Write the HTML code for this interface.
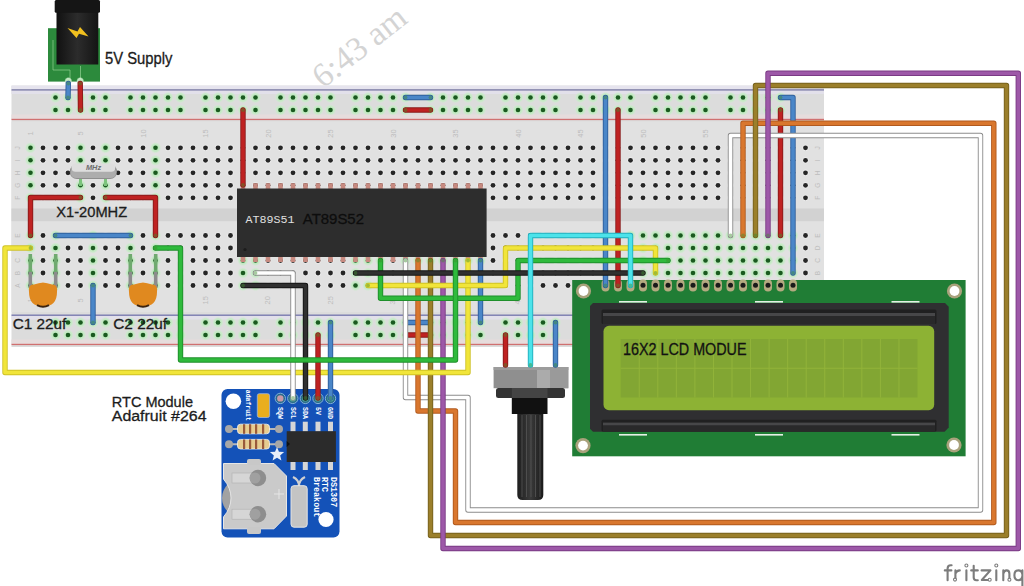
<!DOCTYPE html><html><head><meta charset="utf-8"><style>html,body{margin:0;padding:0;background:#fff;width:1024px;height:586px;overflow:hidden}svg{display:block}text{font-family:"Liberation Sans",sans-serif}</style></head><body>
<svg width="1024" height="586" viewBox="0 0 1024 586">
<rect width="1024" height="586" fill="#fff"/>
<text x="323" y="89" transform="rotate(-38 323 89)" font-family="Liberation Serif" font-size="33.7" fill="#d4d4d4" style="font-family:'Liberation Serif',serif">6:43 am</text>
<rect x="11.5" y="85.6" width="812.5" height="261.4" fill="#dcdcdc"/>
<rect x="11.5" y="121.5" width="812.5" height="190.5" fill="#e1e1e1"/>
<rect x="11.5" y="208.5" width="812.5" height="12.7" fill="#d2d2d2"/>
<rect x="11.5" y="85.6" width="812.5" height="3.6" fill="#e6e4ee"/>
<rect x="11.5" y="90" width="812.5" height="4" fill="#e2e0ea"/>
<rect x="11.5" y="114.5" width="812.5" height="4.5" fill="#e6dcdc"/>
<rect x="11.5" y="315.5" width="812.5" height="4" fill="#e2e0ea"/>
<rect x="11.5" y="339.5" width="812.5" height="4.5" fill="#e6dcdc"/>
<rect x="11.5" y="89.2" width="812.5" height="1.4" fill="#8080aa"/>
<rect x="11.5" y="118.8" width="812.5" height="1.3" fill="#d07070"/>
<rect x="11.5" y="314.5" width="812.5" height="1.4" fill="#7b7cb0"/>
<rect x="11.5" y="343.8" width="812.5" height="1.3" fill="#d07070"/>
<defs><radialGradient id="halo"><stop offset="0" stop-color="#b4e2b4"/><stop offset="0.65" stop-color="#c6eac6"/><stop offset="1" stop-color="#d2ecd2" stop-opacity="0"/></radialGradient><radialGradient id="wring"><stop offset="0.5" stop-color="#f4f4f4"/><stop offset="1" stop-color="#f4f4f4" stop-opacity="0"/></radialGradient></defs>
<circle cx="30.5" cy="147.8" r="5.8" fill="url(#halo)"/><circle cx="30.5" cy="147.8" r="2.3" fill="#1a5a1f"/>
<circle cx="30.5" cy="160.3" r="5.8" fill="url(#halo)"/><circle cx="30.5" cy="160.3" r="2.3" fill="#1a5a1f"/>
<circle cx="30.5" cy="172.8" r="5.8" fill="url(#halo)"/><circle cx="30.5" cy="172.8" r="2.3" fill="#1a5a1f"/>
<circle cx="30.5" cy="185.3" r="5.8" fill="url(#halo)"/><circle cx="30.5" cy="185.3" r="2.3" fill="#1a5a1f"/>
<circle cx="30.5" cy="197.8" r="5.8" fill="url(#halo)"/><circle cx="30.5" cy="197.8" r="2.3" fill="#1a5a1f"/>
<circle cx="30.5" cy="235.5" r="5.8" fill="url(#halo)"/><circle cx="30.5" cy="235.5" r="2.3" fill="#1a5a1f"/>
<circle cx="30.5" cy="248" r="5.8" fill="url(#halo)"/><circle cx="30.5" cy="248" r="2.3" fill="#1a5a1f"/>
<circle cx="30.5" cy="260.5" r="5.8" fill="url(#halo)"/><circle cx="30.5" cy="260.5" r="2.3" fill="#1a5a1f"/>
<circle cx="30.5" cy="273" r="5.8" fill="url(#halo)"/><circle cx="30.5" cy="273" r="2.3" fill="#1a5a1f"/>
<circle cx="30.5" cy="285.5" r="5.8" fill="url(#halo)"/><circle cx="30.5" cy="285.5" r="2.3" fill="#1a5a1f"/>
<circle cx="43.0" cy="147.8" r="3.8" fill="url(#wring)"/><circle cx="43.0" cy="147.8" r="2.4" fill="#262626"/>
<circle cx="43.0" cy="160.3" r="3.8" fill="url(#wring)"/><circle cx="43.0" cy="160.3" r="2.4" fill="#262626"/>
<circle cx="43.0" cy="172.8" r="3.8" fill="url(#wring)"/><circle cx="43.0" cy="172.8" r="2.4" fill="#262626"/>
<circle cx="43.0" cy="185.3" r="3.8" fill="url(#wring)"/><circle cx="43.0" cy="185.3" r="2.4" fill="#262626"/>
<circle cx="43.0" cy="197.8" r="3.8" fill="url(#wring)"/><circle cx="43.0" cy="197.8" r="2.4" fill="#262626"/>
<circle cx="43.0" cy="235.5" r="3.8" fill="url(#wring)"/><circle cx="43.0" cy="235.5" r="2.4" fill="#262626"/>
<circle cx="43.0" cy="248" r="3.8" fill="url(#wring)"/><circle cx="43.0" cy="248" r="2.4" fill="#262626"/>
<circle cx="43.0" cy="260.5" r="3.8" fill="url(#wring)"/><circle cx="43.0" cy="260.5" r="2.4" fill="#262626"/>
<circle cx="43.0" cy="273" r="3.8" fill="url(#wring)"/><circle cx="43.0" cy="273" r="2.4" fill="#262626"/>
<circle cx="43.0" cy="285.5" r="3.8" fill="url(#wring)"/><circle cx="43.0" cy="285.5" r="2.4" fill="#262626"/>
<circle cx="55.5" cy="147.8" r="3.8" fill="url(#wring)"/><circle cx="55.5" cy="147.8" r="2.4" fill="#262626"/>
<circle cx="55.5" cy="160.3" r="3.8" fill="url(#wring)"/><circle cx="55.5" cy="160.3" r="2.4" fill="#262626"/>
<circle cx="55.5" cy="172.8" r="3.8" fill="url(#wring)"/><circle cx="55.5" cy="172.8" r="2.4" fill="#262626"/>
<circle cx="55.5" cy="185.3" r="3.8" fill="url(#wring)"/><circle cx="55.5" cy="185.3" r="2.4" fill="#262626"/>
<circle cx="55.5" cy="197.8" r="3.8" fill="url(#wring)"/><circle cx="55.5" cy="197.8" r="2.4" fill="#262626"/>
<circle cx="55.5" cy="235.5" r="5.8" fill="url(#halo)"/><circle cx="55.5" cy="235.5" r="2.3" fill="#1a5a1f"/>
<circle cx="55.5" cy="248" r="5.8" fill="url(#halo)"/><circle cx="55.5" cy="248" r="2.3" fill="#1a5a1f"/>
<circle cx="55.5" cy="260.5" r="5.8" fill="url(#halo)"/><circle cx="55.5" cy="260.5" r="2.3" fill="#1a5a1f"/>
<circle cx="55.5" cy="273" r="5.8" fill="url(#halo)"/><circle cx="55.5" cy="273" r="2.3" fill="#1a5a1f"/>
<circle cx="55.5" cy="285.5" r="5.8" fill="url(#halo)"/><circle cx="55.5" cy="285.5" r="2.3" fill="#1a5a1f"/>
<circle cx="68.0" cy="147.8" r="3.8" fill="url(#wring)"/><circle cx="68.0" cy="147.8" r="2.4" fill="#262626"/>
<circle cx="68.0" cy="160.3" r="3.8" fill="url(#wring)"/><circle cx="68.0" cy="160.3" r="2.4" fill="#262626"/>
<circle cx="68.0" cy="172.8" r="3.8" fill="url(#wring)"/><circle cx="68.0" cy="172.8" r="2.4" fill="#262626"/>
<circle cx="68.0" cy="185.3" r="3.8" fill="url(#wring)"/><circle cx="68.0" cy="185.3" r="2.4" fill="#262626"/>
<circle cx="68.0" cy="197.8" r="3.8" fill="url(#wring)"/><circle cx="68.0" cy="197.8" r="2.4" fill="#262626"/>
<circle cx="68.0" cy="235.5" r="3.8" fill="url(#wring)"/><circle cx="68.0" cy="235.5" r="2.4" fill="#262626"/>
<circle cx="68.0" cy="248" r="3.8" fill="url(#wring)"/><circle cx="68.0" cy="248" r="2.4" fill="#262626"/>
<circle cx="68.0" cy="260.5" r="3.8" fill="url(#wring)"/><circle cx="68.0" cy="260.5" r="2.4" fill="#262626"/>
<circle cx="68.0" cy="273" r="3.8" fill="url(#wring)"/><circle cx="68.0" cy="273" r="2.4" fill="#262626"/>
<circle cx="68.0" cy="285.5" r="3.8" fill="url(#wring)"/><circle cx="68.0" cy="285.5" r="2.4" fill="#262626"/>
<circle cx="80.5" cy="147.8" r="5.8" fill="url(#halo)"/><circle cx="80.5" cy="147.8" r="2.3" fill="#1a5a1f"/>
<circle cx="80.5" cy="160.3" r="5.8" fill="url(#halo)"/><circle cx="80.5" cy="160.3" r="2.3" fill="#1a5a1f"/>
<circle cx="80.5" cy="172.8" r="5.8" fill="url(#halo)"/><circle cx="80.5" cy="172.8" r="2.3" fill="#1a5a1f"/>
<circle cx="80.5" cy="185.3" r="5.8" fill="url(#halo)"/><circle cx="80.5" cy="185.3" r="2.3" fill="#1a5a1f"/>
<circle cx="80.5" cy="197.8" r="5.8" fill="url(#halo)"/><circle cx="80.5" cy="197.8" r="2.3" fill="#1a5a1f"/>
<circle cx="80.5" cy="235.5" r="3.8" fill="url(#wring)"/><circle cx="80.5" cy="235.5" r="2.4" fill="#262626"/>
<circle cx="80.5" cy="248" r="3.8" fill="url(#wring)"/><circle cx="80.5" cy="248" r="2.4" fill="#262626"/>
<circle cx="80.5" cy="260.5" r="3.8" fill="url(#wring)"/><circle cx="80.5" cy="260.5" r="2.4" fill="#262626"/>
<circle cx="80.5" cy="273" r="3.8" fill="url(#wring)"/><circle cx="80.5" cy="273" r="2.4" fill="#262626"/>
<circle cx="80.5" cy="285.5" r="3.8" fill="url(#wring)"/><circle cx="80.5" cy="285.5" r="2.4" fill="#262626"/>
<circle cx="93.0" cy="147.8" r="3.8" fill="url(#wring)"/><circle cx="93.0" cy="147.8" r="2.4" fill="#262626"/>
<circle cx="93.0" cy="160.3" r="3.8" fill="url(#wring)"/><circle cx="93.0" cy="160.3" r="2.4" fill="#262626"/>
<circle cx="93.0" cy="172.8" r="3.8" fill="url(#wring)"/><circle cx="93.0" cy="172.8" r="2.4" fill="#262626"/>
<circle cx="93.0" cy="185.3" r="3.8" fill="url(#wring)"/><circle cx="93.0" cy="185.3" r="2.4" fill="#262626"/>
<circle cx="93.0" cy="197.8" r="3.8" fill="url(#wring)"/><circle cx="93.0" cy="197.8" r="2.4" fill="#262626"/>
<circle cx="93.0" cy="235.5" r="5.8" fill="url(#halo)"/><circle cx="93.0" cy="235.5" r="2.3" fill="#1a5a1f"/>
<circle cx="93.0" cy="248" r="5.8" fill="url(#halo)"/><circle cx="93.0" cy="248" r="2.3" fill="#1a5a1f"/>
<circle cx="93.0" cy="260.5" r="5.8" fill="url(#halo)"/><circle cx="93.0" cy="260.5" r="2.3" fill="#1a5a1f"/>
<circle cx="93.0" cy="273" r="5.8" fill="url(#halo)"/><circle cx="93.0" cy="273" r="2.3" fill="#1a5a1f"/>
<circle cx="93.0" cy="285.5" r="5.8" fill="url(#halo)"/><circle cx="93.0" cy="285.5" r="2.3" fill="#1a5a1f"/>
<circle cx="105.5" cy="147.8" r="5.8" fill="url(#halo)"/><circle cx="105.5" cy="147.8" r="2.3" fill="#1a5a1f"/>
<circle cx="105.5" cy="160.3" r="5.8" fill="url(#halo)"/><circle cx="105.5" cy="160.3" r="2.3" fill="#1a5a1f"/>
<circle cx="105.5" cy="172.8" r="5.8" fill="url(#halo)"/><circle cx="105.5" cy="172.8" r="2.3" fill="#1a5a1f"/>
<circle cx="105.5" cy="185.3" r="5.8" fill="url(#halo)"/><circle cx="105.5" cy="185.3" r="2.3" fill="#1a5a1f"/>
<circle cx="105.5" cy="197.8" r="5.8" fill="url(#halo)"/><circle cx="105.5" cy="197.8" r="2.3" fill="#1a5a1f"/>
<circle cx="105.5" cy="235.5" r="3.8" fill="url(#wring)"/><circle cx="105.5" cy="235.5" r="2.4" fill="#262626"/>
<circle cx="105.5" cy="248" r="3.8" fill="url(#wring)"/><circle cx="105.5" cy="248" r="2.4" fill="#262626"/>
<circle cx="105.5" cy="260.5" r="3.8" fill="url(#wring)"/><circle cx="105.5" cy="260.5" r="2.4" fill="#262626"/>
<circle cx="105.5" cy="273" r="3.8" fill="url(#wring)"/><circle cx="105.5" cy="273" r="2.4" fill="#262626"/>
<circle cx="105.5" cy="285.5" r="3.8" fill="url(#wring)"/><circle cx="105.5" cy="285.5" r="2.4" fill="#262626"/>
<circle cx="118.0" cy="147.8" r="3.8" fill="url(#wring)"/><circle cx="118.0" cy="147.8" r="2.4" fill="#262626"/>
<circle cx="118.0" cy="160.3" r="3.8" fill="url(#wring)"/><circle cx="118.0" cy="160.3" r="2.4" fill="#262626"/>
<circle cx="118.0" cy="172.8" r="3.8" fill="url(#wring)"/><circle cx="118.0" cy="172.8" r="2.4" fill="#262626"/>
<circle cx="118.0" cy="185.3" r="3.8" fill="url(#wring)"/><circle cx="118.0" cy="185.3" r="2.4" fill="#262626"/>
<circle cx="118.0" cy="197.8" r="3.8" fill="url(#wring)"/><circle cx="118.0" cy="197.8" r="2.4" fill="#262626"/>
<circle cx="118.0" cy="235.5" r="3.8" fill="url(#wring)"/><circle cx="118.0" cy="235.5" r="2.4" fill="#262626"/>
<circle cx="118.0" cy="248" r="3.8" fill="url(#wring)"/><circle cx="118.0" cy="248" r="2.4" fill="#262626"/>
<circle cx="118.0" cy="260.5" r="3.8" fill="url(#wring)"/><circle cx="118.0" cy="260.5" r="2.4" fill="#262626"/>
<circle cx="118.0" cy="273" r="3.8" fill="url(#wring)"/><circle cx="118.0" cy="273" r="2.4" fill="#262626"/>
<circle cx="118.0" cy="285.5" r="3.8" fill="url(#wring)"/><circle cx="118.0" cy="285.5" r="2.4" fill="#262626"/>
<circle cx="130.5" cy="147.8" r="3.8" fill="url(#wring)"/><circle cx="130.5" cy="147.8" r="2.4" fill="#262626"/>
<circle cx="130.5" cy="160.3" r="3.8" fill="url(#wring)"/><circle cx="130.5" cy="160.3" r="2.4" fill="#262626"/>
<circle cx="130.5" cy="172.8" r="3.8" fill="url(#wring)"/><circle cx="130.5" cy="172.8" r="2.4" fill="#262626"/>
<circle cx="130.5" cy="185.3" r="3.8" fill="url(#wring)"/><circle cx="130.5" cy="185.3" r="2.4" fill="#262626"/>
<circle cx="130.5" cy="197.8" r="3.8" fill="url(#wring)"/><circle cx="130.5" cy="197.8" r="2.4" fill="#262626"/>
<circle cx="130.5" cy="235.5" r="5.8" fill="url(#halo)"/><circle cx="130.5" cy="235.5" r="2.3" fill="#1a5a1f"/>
<circle cx="130.5" cy="248" r="5.8" fill="url(#halo)"/><circle cx="130.5" cy="248" r="2.3" fill="#1a5a1f"/>
<circle cx="130.5" cy="260.5" r="5.8" fill="url(#halo)"/><circle cx="130.5" cy="260.5" r="2.3" fill="#1a5a1f"/>
<circle cx="130.5" cy="273" r="5.8" fill="url(#halo)"/><circle cx="130.5" cy="273" r="2.3" fill="#1a5a1f"/>
<circle cx="130.5" cy="285.5" r="5.8" fill="url(#halo)"/><circle cx="130.5" cy="285.5" r="2.3" fill="#1a5a1f"/>
<circle cx="143.0" cy="147.8" r="3.8" fill="url(#wring)"/><circle cx="143.0" cy="147.8" r="2.4" fill="#262626"/>
<circle cx="143.0" cy="160.3" r="3.8" fill="url(#wring)"/><circle cx="143.0" cy="160.3" r="2.4" fill="#262626"/>
<circle cx="143.0" cy="172.8" r="3.8" fill="url(#wring)"/><circle cx="143.0" cy="172.8" r="2.4" fill="#262626"/>
<circle cx="143.0" cy="185.3" r="3.8" fill="url(#wring)"/><circle cx="143.0" cy="185.3" r="2.4" fill="#262626"/>
<circle cx="143.0" cy="197.8" r="3.8" fill="url(#wring)"/><circle cx="143.0" cy="197.8" r="2.4" fill="#262626"/>
<circle cx="143.0" cy="235.5" r="3.8" fill="url(#wring)"/><circle cx="143.0" cy="235.5" r="2.4" fill="#262626"/>
<circle cx="143.0" cy="248" r="3.8" fill="url(#wring)"/><circle cx="143.0" cy="248" r="2.4" fill="#262626"/>
<circle cx="143.0" cy="260.5" r="3.8" fill="url(#wring)"/><circle cx="143.0" cy="260.5" r="2.4" fill="#262626"/>
<circle cx="143.0" cy="273" r="3.8" fill="url(#wring)"/><circle cx="143.0" cy="273" r="2.4" fill="#262626"/>
<circle cx="143.0" cy="285.5" r="3.8" fill="url(#wring)"/><circle cx="143.0" cy="285.5" r="2.4" fill="#262626"/>
<circle cx="155.5" cy="147.8" r="5.8" fill="url(#halo)"/><circle cx="155.5" cy="147.8" r="2.3" fill="#1a5a1f"/>
<circle cx="155.5" cy="160.3" r="5.8" fill="url(#halo)"/><circle cx="155.5" cy="160.3" r="2.3" fill="#1a5a1f"/>
<circle cx="155.5" cy="172.8" r="5.8" fill="url(#halo)"/><circle cx="155.5" cy="172.8" r="2.3" fill="#1a5a1f"/>
<circle cx="155.5" cy="185.3" r="5.8" fill="url(#halo)"/><circle cx="155.5" cy="185.3" r="2.3" fill="#1a5a1f"/>
<circle cx="155.5" cy="197.8" r="5.8" fill="url(#halo)"/><circle cx="155.5" cy="197.8" r="2.3" fill="#1a5a1f"/>
<circle cx="155.5" cy="235.5" r="5.8" fill="url(#halo)"/><circle cx="155.5" cy="235.5" r="2.3" fill="#1a5a1f"/>
<circle cx="155.5" cy="248" r="5.8" fill="url(#halo)"/><circle cx="155.5" cy="248" r="2.3" fill="#1a5a1f"/>
<circle cx="155.5" cy="260.5" r="5.8" fill="url(#halo)"/><circle cx="155.5" cy="260.5" r="2.3" fill="#1a5a1f"/>
<circle cx="155.5" cy="273" r="5.8" fill="url(#halo)"/><circle cx="155.5" cy="273" r="2.3" fill="#1a5a1f"/>
<circle cx="155.5" cy="285.5" r="5.8" fill="url(#halo)"/><circle cx="155.5" cy="285.5" r="2.3" fill="#1a5a1f"/>
<circle cx="168.0" cy="147.8" r="3.8" fill="url(#wring)"/><circle cx="168.0" cy="147.8" r="2.4" fill="#262626"/>
<circle cx="168.0" cy="160.3" r="3.8" fill="url(#wring)"/><circle cx="168.0" cy="160.3" r="2.4" fill="#262626"/>
<circle cx="168.0" cy="172.8" r="3.8" fill="url(#wring)"/><circle cx="168.0" cy="172.8" r="2.4" fill="#262626"/>
<circle cx="168.0" cy="185.3" r="3.8" fill="url(#wring)"/><circle cx="168.0" cy="185.3" r="2.4" fill="#262626"/>
<circle cx="168.0" cy="197.8" r="3.8" fill="url(#wring)"/><circle cx="168.0" cy="197.8" r="2.4" fill="#262626"/>
<circle cx="168.0" cy="235.5" r="3.8" fill="url(#wring)"/><circle cx="168.0" cy="235.5" r="2.4" fill="#262626"/>
<circle cx="168.0" cy="248" r="3.8" fill="url(#wring)"/><circle cx="168.0" cy="248" r="2.4" fill="#262626"/>
<circle cx="168.0" cy="260.5" r="3.8" fill="url(#wring)"/><circle cx="168.0" cy="260.5" r="2.4" fill="#262626"/>
<circle cx="168.0" cy="273" r="3.8" fill="url(#wring)"/><circle cx="168.0" cy="273" r="2.4" fill="#262626"/>
<circle cx="168.0" cy="285.5" r="3.8" fill="url(#wring)"/><circle cx="168.0" cy="285.5" r="2.4" fill="#262626"/>
<circle cx="180.5" cy="147.8" r="3.8" fill="url(#wring)"/><circle cx="180.5" cy="147.8" r="2.4" fill="#262626"/>
<circle cx="180.5" cy="160.3" r="3.8" fill="url(#wring)"/><circle cx="180.5" cy="160.3" r="2.4" fill="#262626"/>
<circle cx="180.5" cy="172.8" r="3.8" fill="url(#wring)"/><circle cx="180.5" cy="172.8" r="2.4" fill="#262626"/>
<circle cx="180.5" cy="185.3" r="3.8" fill="url(#wring)"/><circle cx="180.5" cy="185.3" r="2.4" fill="#262626"/>
<circle cx="180.5" cy="197.8" r="3.8" fill="url(#wring)"/><circle cx="180.5" cy="197.8" r="2.4" fill="#262626"/>
<circle cx="180.5" cy="235.5" r="3.8" fill="url(#wring)"/><circle cx="180.5" cy="235.5" r="2.4" fill="#262626"/>
<circle cx="180.5" cy="248" r="3.8" fill="url(#wring)"/><circle cx="180.5" cy="248" r="2.4" fill="#262626"/>
<circle cx="180.5" cy="260.5" r="3.8" fill="url(#wring)"/><circle cx="180.5" cy="260.5" r="2.4" fill="#262626"/>
<circle cx="180.5" cy="273" r="3.8" fill="url(#wring)"/><circle cx="180.5" cy="273" r="2.4" fill="#262626"/>
<circle cx="180.5" cy="285.5" r="3.8" fill="url(#wring)"/><circle cx="180.5" cy="285.5" r="2.4" fill="#262626"/>
<circle cx="193.0" cy="147.8" r="3.8" fill="url(#wring)"/><circle cx="193.0" cy="147.8" r="2.4" fill="#262626"/>
<circle cx="193.0" cy="160.3" r="3.8" fill="url(#wring)"/><circle cx="193.0" cy="160.3" r="2.4" fill="#262626"/>
<circle cx="193.0" cy="172.8" r="3.8" fill="url(#wring)"/><circle cx="193.0" cy="172.8" r="2.4" fill="#262626"/>
<circle cx="193.0" cy="185.3" r="3.8" fill="url(#wring)"/><circle cx="193.0" cy="185.3" r="2.4" fill="#262626"/>
<circle cx="193.0" cy="197.8" r="3.8" fill="url(#wring)"/><circle cx="193.0" cy="197.8" r="2.4" fill="#262626"/>
<circle cx="193.0" cy="235.5" r="3.8" fill="url(#wring)"/><circle cx="193.0" cy="235.5" r="2.4" fill="#262626"/>
<circle cx="193.0" cy="248" r="3.8" fill="url(#wring)"/><circle cx="193.0" cy="248" r="2.4" fill="#262626"/>
<circle cx="193.0" cy="260.5" r="3.8" fill="url(#wring)"/><circle cx="193.0" cy="260.5" r="2.4" fill="#262626"/>
<circle cx="193.0" cy="273" r="3.8" fill="url(#wring)"/><circle cx="193.0" cy="273" r="2.4" fill="#262626"/>
<circle cx="193.0" cy="285.5" r="3.8" fill="url(#wring)"/><circle cx="193.0" cy="285.5" r="2.4" fill="#262626"/>
<circle cx="205.5" cy="147.8" r="3.8" fill="url(#wring)"/><circle cx="205.5" cy="147.8" r="2.4" fill="#262626"/>
<circle cx="205.5" cy="160.3" r="3.8" fill="url(#wring)"/><circle cx="205.5" cy="160.3" r="2.4" fill="#262626"/>
<circle cx="205.5" cy="172.8" r="3.8" fill="url(#wring)"/><circle cx="205.5" cy="172.8" r="2.4" fill="#262626"/>
<circle cx="205.5" cy="185.3" r="3.8" fill="url(#wring)"/><circle cx="205.5" cy="185.3" r="2.4" fill="#262626"/>
<circle cx="205.5" cy="197.8" r="3.8" fill="url(#wring)"/><circle cx="205.5" cy="197.8" r="2.4" fill="#262626"/>
<circle cx="205.5" cy="235.5" r="3.8" fill="url(#wring)"/><circle cx="205.5" cy="235.5" r="2.4" fill="#262626"/>
<circle cx="205.5" cy="248" r="3.8" fill="url(#wring)"/><circle cx="205.5" cy="248" r="2.4" fill="#262626"/>
<circle cx="205.5" cy="260.5" r="3.8" fill="url(#wring)"/><circle cx="205.5" cy="260.5" r="2.4" fill="#262626"/>
<circle cx="205.5" cy="273" r="3.8" fill="url(#wring)"/><circle cx="205.5" cy="273" r="2.4" fill="#262626"/>
<circle cx="205.5" cy="285.5" r="3.8" fill="url(#wring)"/><circle cx="205.5" cy="285.5" r="2.4" fill="#262626"/>
<circle cx="218.0" cy="147.8" r="3.8" fill="url(#wring)"/><circle cx="218.0" cy="147.8" r="2.4" fill="#262626"/>
<circle cx="218.0" cy="160.3" r="3.8" fill="url(#wring)"/><circle cx="218.0" cy="160.3" r="2.4" fill="#262626"/>
<circle cx="218.0" cy="172.8" r="3.8" fill="url(#wring)"/><circle cx="218.0" cy="172.8" r="2.4" fill="#262626"/>
<circle cx="218.0" cy="185.3" r="3.8" fill="url(#wring)"/><circle cx="218.0" cy="185.3" r="2.4" fill="#262626"/>
<circle cx="218.0" cy="197.8" r="3.8" fill="url(#wring)"/><circle cx="218.0" cy="197.8" r="2.4" fill="#262626"/>
<circle cx="218.0" cy="235.5" r="3.8" fill="url(#wring)"/><circle cx="218.0" cy="235.5" r="2.4" fill="#262626"/>
<circle cx="218.0" cy="248" r="3.8" fill="url(#wring)"/><circle cx="218.0" cy="248" r="2.4" fill="#262626"/>
<circle cx="218.0" cy="260.5" r="3.8" fill="url(#wring)"/><circle cx="218.0" cy="260.5" r="2.4" fill="#262626"/>
<circle cx="218.0" cy="273" r="3.8" fill="url(#wring)"/><circle cx="218.0" cy="273" r="2.4" fill="#262626"/>
<circle cx="218.0" cy="285.5" r="3.8" fill="url(#wring)"/><circle cx="218.0" cy="285.5" r="2.4" fill="#262626"/>
<circle cx="230.5" cy="147.8" r="3.8" fill="url(#wring)"/><circle cx="230.5" cy="147.8" r="2.4" fill="#262626"/>
<circle cx="230.5" cy="160.3" r="3.8" fill="url(#wring)"/><circle cx="230.5" cy="160.3" r="2.4" fill="#262626"/>
<circle cx="230.5" cy="172.8" r="3.8" fill="url(#wring)"/><circle cx="230.5" cy="172.8" r="2.4" fill="#262626"/>
<circle cx="230.5" cy="185.3" r="3.8" fill="url(#wring)"/><circle cx="230.5" cy="185.3" r="2.4" fill="#262626"/>
<circle cx="230.5" cy="197.8" r="3.8" fill="url(#wring)"/><circle cx="230.5" cy="197.8" r="2.4" fill="#262626"/>
<circle cx="230.5" cy="235.5" r="3.8" fill="url(#wring)"/><circle cx="230.5" cy="235.5" r="2.4" fill="#262626"/>
<circle cx="230.5" cy="248" r="3.8" fill="url(#wring)"/><circle cx="230.5" cy="248" r="2.4" fill="#262626"/>
<circle cx="230.5" cy="260.5" r="3.8" fill="url(#wring)"/><circle cx="230.5" cy="260.5" r="2.4" fill="#262626"/>
<circle cx="230.5" cy="273" r="3.8" fill="url(#wring)"/><circle cx="230.5" cy="273" r="2.4" fill="#262626"/>
<circle cx="230.5" cy="285.5" r="3.8" fill="url(#wring)"/><circle cx="230.5" cy="285.5" r="2.4" fill="#262626"/>
<circle cx="243.0" cy="147.8" r="3.8" fill="url(#wring)"/><circle cx="243.0" cy="147.8" r="2.4" fill="#262626"/>
<circle cx="243.0" cy="160.3" r="3.8" fill="url(#wring)"/><circle cx="243.0" cy="160.3" r="2.4" fill="#262626"/>
<circle cx="243.0" cy="172.8" r="3.8" fill="url(#wring)"/><circle cx="243.0" cy="172.8" r="2.4" fill="#262626"/>
<circle cx="243.0" cy="185.3" r="3.8" fill="url(#wring)"/><circle cx="243.0" cy="185.3" r="2.4" fill="#262626"/>
<circle cx="243.0" cy="197.8" r="3.8" fill="url(#wring)"/><circle cx="243.0" cy="197.8" r="2.4" fill="#262626"/>
<circle cx="243.0" cy="235.5" r="5.8" fill="url(#halo)"/><circle cx="243.0" cy="235.5" r="2.3" fill="#1a5a1f"/>
<circle cx="243.0" cy="248" r="5.8" fill="url(#halo)"/><circle cx="243.0" cy="248" r="2.3" fill="#1a5a1f"/>
<circle cx="243.0" cy="260.5" r="5.8" fill="url(#halo)"/><circle cx="243.0" cy="260.5" r="2.3" fill="#1a5a1f"/>
<circle cx="243.0" cy="273" r="5.8" fill="url(#halo)"/><circle cx="243.0" cy="273" r="2.3" fill="#1a5a1f"/>
<circle cx="243.0" cy="285.5" r="5.8" fill="url(#halo)"/><circle cx="243.0" cy="285.5" r="2.3" fill="#1a5a1f"/>
<circle cx="255.5" cy="147.8" r="3.8" fill="url(#wring)"/><circle cx="255.5" cy="147.8" r="2.4" fill="#262626"/>
<circle cx="255.5" cy="160.3" r="3.8" fill="url(#wring)"/><circle cx="255.5" cy="160.3" r="2.4" fill="#262626"/>
<circle cx="255.5" cy="172.8" r="3.8" fill="url(#wring)"/><circle cx="255.5" cy="172.8" r="2.4" fill="#262626"/>
<circle cx="255.5" cy="185.3" r="3.8" fill="url(#wring)"/><circle cx="255.5" cy="185.3" r="2.4" fill="#262626"/>
<circle cx="255.5" cy="197.8" r="3.8" fill="url(#wring)"/><circle cx="255.5" cy="197.8" r="2.4" fill="#262626"/>
<circle cx="255.5" cy="235.5" r="5.8" fill="url(#halo)"/><circle cx="255.5" cy="235.5" r="2.3" fill="#1a5a1f"/>
<circle cx="255.5" cy="248" r="5.8" fill="url(#halo)"/><circle cx="255.5" cy="248" r="2.3" fill="#1a5a1f"/>
<circle cx="255.5" cy="260.5" r="5.8" fill="url(#halo)"/><circle cx="255.5" cy="260.5" r="2.3" fill="#1a5a1f"/>
<circle cx="255.5" cy="273" r="5.8" fill="url(#halo)"/><circle cx="255.5" cy="273" r="2.3" fill="#1a5a1f"/>
<circle cx="255.5" cy="285.5" r="5.8" fill="url(#halo)"/><circle cx="255.5" cy="285.5" r="2.3" fill="#1a5a1f"/>
<circle cx="268.0" cy="147.8" r="3.8" fill="url(#wring)"/><circle cx="268.0" cy="147.8" r="2.4" fill="#262626"/>
<circle cx="268.0" cy="160.3" r="3.8" fill="url(#wring)"/><circle cx="268.0" cy="160.3" r="2.4" fill="#262626"/>
<circle cx="268.0" cy="172.8" r="3.8" fill="url(#wring)"/><circle cx="268.0" cy="172.8" r="2.4" fill="#262626"/>
<circle cx="268.0" cy="185.3" r="3.8" fill="url(#wring)"/><circle cx="268.0" cy="185.3" r="2.4" fill="#262626"/>
<circle cx="268.0" cy="197.8" r="3.8" fill="url(#wring)"/><circle cx="268.0" cy="197.8" r="2.4" fill="#262626"/>
<circle cx="268.0" cy="235.5" r="3.8" fill="url(#wring)"/><circle cx="268.0" cy="235.5" r="2.4" fill="#262626"/>
<circle cx="268.0" cy="248" r="3.8" fill="url(#wring)"/><circle cx="268.0" cy="248" r="2.4" fill="#262626"/>
<circle cx="268.0" cy="260.5" r="3.8" fill="url(#wring)"/><circle cx="268.0" cy="260.5" r="2.4" fill="#262626"/>
<circle cx="268.0" cy="273" r="3.8" fill="url(#wring)"/><circle cx="268.0" cy="273" r="2.4" fill="#262626"/>
<circle cx="268.0" cy="285.5" r="3.8" fill="url(#wring)"/><circle cx="268.0" cy="285.5" r="2.4" fill="#262626"/>
<circle cx="280.5" cy="147.8" r="3.8" fill="url(#wring)"/><circle cx="280.5" cy="147.8" r="2.4" fill="#262626"/>
<circle cx="280.5" cy="160.3" r="3.8" fill="url(#wring)"/><circle cx="280.5" cy="160.3" r="2.4" fill="#262626"/>
<circle cx="280.5" cy="172.8" r="3.8" fill="url(#wring)"/><circle cx="280.5" cy="172.8" r="2.4" fill="#262626"/>
<circle cx="280.5" cy="185.3" r="3.8" fill="url(#wring)"/><circle cx="280.5" cy="185.3" r="2.4" fill="#262626"/>
<circle cx="280.5" cy="197.8" r="3.8" fill="url(#wring)"/><circle cx="280.5" cy="197.8" r="2.4" fill="#262626"/>
<circle cx="280.5" cy="235.5" r="3.8" fill="url(#wring)"/><circle cx="280.5" cy="235.5" r="2.4" fill="#262626"/>
<circle cx="280.5" cy="248" r="3.8" fill="url(#wring)"/><circle cx="280.5" cy="248" r="2.4" fill="#262626"/>
<circle cx="280.5" cy="260.5" r="3.8" fill="url(#wring)"/><circle cx="280.5" cy="260.5" r="2.4" fill="#262626"/>
<circle cx="280.5" cy="273" r="3.8" fill="url(#wring)"/><circle cx="280.5" cy="273" r="2.4" fill="#262626"/>
<circle cx="280.5" cy="285.5" r="3.8" fill="url(#wring)"/><circle cx="280.5" cy="285.5" r="2.4" fill="#262626"/>
<circle cx="293.0" cy="147.8" r="3.8" fill="url(#wring)"/><circle cx="293.0" cy="147.8" r="2.4" fill="#262626"/>
<circle cx="293.0" cy="160.3" r="3.8" fill="url(#wring)"/><circle cx="293.0" cy="160.3" r="2.4" fill="#262626"/>
<circle cx="293.0" cy="172.8" r="3.8" fill="url(#wring)"/><circle cx="293.0" cy="172.8" r="2.4" fill="#262626"/>
<circle cx="293.0" cy="185.3" r="3.8" fill="url(#wring)"/><circle cx="293.0" cy="185.3" r="2.4" fill="#262626"/>
<circle cx="293.0" cy="197.8" r="3.8" fill="url(#wring)"/><circle cx="293.0" cy="197.8" r="2.4" fill="#262626"/>
<circle cx="293.0" cy="235.5" r="3.8" fill="url(#wring)"/><circle cx="293.0" cy="235.5" r="2.4" fill="#262626"/>
<circle cx="293.0" cy="248" r="3.8" fill="url(#wring)"/><circle cx="293.0" cy="248" r="2.4" fill="#262626"/>
<circle cx="293.0" cy="260.5" r="3.8" fill="url(#wring)"/><circle cx="293.0" cy="260.5" r="2.4" fill="#262626"/>
<circle cx="293.0" cy="273" r="3.8" fill="url(#wring)"/><circle cx="293.0" cy="273" r="2.4" fill="#262626"/>
<circle cx="293.0" cy="285.5" r="3.8" fill="url(#wring)"/><circle cx="293.0" cy="285.5" r="2.4" fill="#262626"/>
<circle cx="305.5" cy="147.8" r="3.8" fill="url(#wring)"/><circle cx="305.5" cy="147.8" r="2.4" fill="#262626"/>
<circle cx="305.5" cy="160.3" r="3.8" fill="url(#wring)"/><circle cx="305.5" cy="160.3" r="2.4" fill="#262626"/>
<circle cx="305.5" cy="172.8" r="3.8" fill="url(#wring)"/><circle cx="305.5" cy="172.8" r="2.4" fill="#262626"/>
<circle cx="305.5" cy="185.3" r="3.8" fill="url(#wring)"/><circle cx="305.5" cy="185.3" r="2.4" fill="#262626"/>
<circle cx="305.5" cy="197.8" r="3.8" fill="url(#wring)"/><circle cx="305.5" cy="197.8" r="2.4" fill="#262626"/>
<circle cx="305.5" cy="235.5" r="3.8" fill="url(#wring)"/><circle cx="305.5" cy="235.5" r="2.4" fill="#262626"/>
<circle cx="305.5" cy="248" r="3.8" fill="url(#wring)"/><circle cx="305.5" cy="248" r="2.4" fill="#262626"/>
<circle cx="305.5" cy="260.5" r="3.8" fill="url(#wring)"/><circle cx="305.5" cy="260.5" r="2.4" fill="#262626"/>
<circle cx="305.5" cy="273" r="3.8" fill="url(#wring)"/><circle cx="305.5" cy="273" r="2.4" fill="#262626"/>
<circle cx="305.5" cy="285.5" r="3.8" fill="url(#wring)"/><circle cx="305.5" cy="285.5" r="2.4" fill="#262626"/>
<circle cx="318.0" cy="147.8" r="3.8" fill="url(#wring)"/><circle cx="318.0" cy="147.8" r="2.4" fill="#262626"/>
<circle cx="318.0" cy="160.3" r="3.8" fill="url(#wring)"/><circle cx="318.0" cy="160.3" r="2.4" fill="#262626"/>
<circle cx="318.0" cy="172.8" r="3.8" fill="url(#wring)"/><circle cx="318.0" cy="172.8" r="2.4" fill="#262626"/>
<circle cx="318.0" cy="185.3" r="3.8" fill="url(#wring)"/><circle cx="318.0" cy="185.3" r="2.4" fill="#262626"/>
<circle cx="318.0" cy="197.8" r="3.8" fill="url(#wring)"/><circle cx="318.0" cy="197.8" r="2.4" fill="#262626"/>
<circle cx="318.0" cy="235.5" r="3.8" fill="url(#wring)"/><circle cx="318.0" cy="235.5" r="2.4" fill="#262626"/>
<circle cx="318.0" cy="248" r="3.8" fill="url(#wring)"/><circle cx="318.0" cy="248" r="2.4" fill="#262626"/>
<circle cx="318.0" cy="260.5" r="3.8" fill="url(#wring)"/><circle cx="318.0" cy="260.5" r="2.4" fill="#262626"/>
<circle cx="318.0" cy="273" r="3.8" fill="url(#wring)"/><circle cx="318.0" cy="273" r="2.4" fill="#262626"/>
<circle cx="318.0" cy="285.5" r="3.8" fill="url(#wring)"/><circle cx="318.0" cy="285.5" r="2.4" fill="#262626"/>
<circle cx="330.5" cy="147.8" r="3.8" fill="url(#wring)"/><circle cx="330.5" cy="147.8" r="2.4" fill="#262626"/>
<circle cx="330.5" cy="160.3" r="3.8" fill="url(#wring)"/><circle cx="330.5" cy="160.3" r="2.4" fill="#262626"/>
<circle cx="330.5" cy="172.8" r="3.8" fill="url(#wring)"/><circle cx="330.5" cy="172.8" r="2.4" fill="#262626"/>
<circle cx="330.5" cy="185.3" r="3.8" fill="url(#wring)"/><circle cx="330.5" cy="185.3" r="2.4" fill="#262626"/>
<circle cx="330.5" cy="197.8" r="3.8" fill="url(#wring)"/><circle cx="330.5" cy="197.8" r="2.4" fill="#262626"/>
<circle cx="330.5" cy="235.5" r="3.8" fill="url(#wring)"/><circle cx="330.5" cy="235.5" r="2.4" fill="#262626"/>
<circle cx="330.5" cy="248" r="3.8" fill="url(#wring)"/><circle cx="330.5" cy="248" r="2.4" fill="#262626"/>
<circle cx="330.5" cy="260.5" r="3.8" fill="url(#wring)"/><circle cx="330.5" cy="260.5" r="2.4" fill="#262626"/>
<circle cx="330.5" cy="273" r="3.8" fill="url(#wring)"/><circle cx="330.5" cy="273" r="2.4" fill="#262626"/>
<circle cx="330.5" cy="285.5" r="3.8" fill="url(#wring)"/><circle cx="330.5" cy="285.5" r="2.4" fill="#262626"/>
<circle cx="343.0" cy="147.8" r="3.8" fill="url(#wring)"/><circle cx="343.0" cy="147.8" r="2.4" fill="#262626"/>
<circle cx="343.0" cy="160.3" r="3.8" fill="url(#wring)"/><circle cx="343.0" cy="160.3" r="2.4" fill="#262626"/>
<circle cx="343.0" cy="172.8" r="3.8" fill="url(#wring)"/><circle cx="343.0" cy="172.8" r="2.4" fill="#262626"/>
<circle cx="343.0" cy="185.3" r="3.8" fill="url(#wring)"/><circle cx="343.0" cy="185.3" r="2.4" fill="#262626"/>
<circle cx="343.0" cy="197.8" r="3.8" fill="url(#wring)"/><circle cx="343.0" cy="197.8" r="2.4" fill="#262626"/>
<circle cx="343.0" cy="235.5" r="3.8" fill="url(#wring)"/><circle cx="343.0" cy="235.5" r="2.4" fill="#262626"/>
<circle cx="343.0" cy="248" r="3.8" fill="url(#wring)"/><circle cx="343.0" cy="248" r="2.4" fill="#262626"/>
<circle cx="343.0" cy="260.5" r="3.8" fill="url(#wring)"/><circle cx="343.0" cy="260.5" r="2.4" fill="#262626"/>
<circle cx="343.0" cy="273" r="3.8" fill="url(#wring)"/><circle cx="343.0" cy="273" r="2.4" fill="#262626"/>
<circle cx="343.0" cy="285.5" r="3.8" fill="url(#wring)"/><circle cx="343.0" cy="285.5" r="2.4" fill="#262626"/>
<circle cx="355.5" cy="147.8" r="3.8" fill="url(#wring)"/><circle cx="355.5" cy="147.8" r="2.4" fill="#262626"/>
<circle cx="355.5" cy="160.3" r="3.8" fill="url(#wring)"/><circle cx="355.5" cy="160.3" r="2.4" fill="#262626"/>
<circle cx="355.5" cy="172.8" r="3.8" fill="url(#wring)"/><circle cx="355.5" cy="172.8" r="2.4" fill="#262626"/>
<circle cx="355.5" cy="185.3" r="3.8" fill="url(#wring)"/><circle cx="355.5" cy="185.3" r="2.4" fill="#262626"/>
<circle cx="355.5" cy="197.8" r="3.8" fill="url(#wring)"/><circle cx="355.5" cy="197.8" r="2.4" fill="#262626"/>
<circle cx="355.5" cy="235.5" r="5.8" fill="url(#halo)"/><circle cx="355.5" cy="235.5" r="2.3" fill="#1a5a1f"/>
<circle cx="355.5" cy="248" r="5.8" fill="url(#halo)"/><circle cx="355.5" cy="248" r="2.3" fill="#1a5a1f"/>
<circle cx="355.5" cy="260.5" r="5.8" fill="url(#halo)"/><circle cx="355.5" cy="260.5" r="2.3" fill="#1a5a1f"/>
<circle cx="355.5" cy="273" r="5.8" fill="url(#halo)"/><circle cx="355.5" cy="273" r="2.3" fill="#1a5a1f"/>
<circle cx="355.5" cy="285.5" r="5.8" fill="url(#halo)"/><circle cx="355.5" cy="285.5" r="2.3" fill="#1a5a1f"/>
<circle cx="368.0" cy="147.8" r="3.8" fill="url(#wring)"/><circle cx="368.0" cy="147.8" r="2.4" fill="#262626"/>
<circle cx="368.0" cy="160.3" r="3.8" fill="url(#wring)"/><circle cx="368.0" cy="160.3" r="2.4" fill="#262626"/>
<circle cx="368.0" cy="172.8" r="3.8" fill="url(#wring)"/><circle cx="368.0" cy="172.8" r="2.4" fill="#262626"/>
<circle cx="368.0" cy="185.3" r="3.8" fill="url(#wring)"/><circle cx="368.0" cy="185.3" r="2.4" fill="#262626"/>
<circle cx="368.0" cy="197.8" r="3.8" fill="url(#wring)"/><circle cx="368.0" cy="197.8" r="2.4" fill="#262626"/>
<circle cx="368.0" cy="235.5" r="5.8" fill="url(#halo)"/><circle cx="368.0" cy="235.5" r="2.3" fill="#1a5a1f"/>
<circle cx="368.0" cy="248" r="5.8" fill="url(#halo)"/><circle cx="368.0" cy="248" r="2.3" fill="#1a5a1f"/>
<circle cx="368.0" cy="260.5" r="5.8" fill="url(#halo)"/><circle cx="368.0" cy="260.5" r="2.3" fill="#1a5a1f"/>
<circle cx="368.0" cy="273" r="5.8" fill="url(#halo)"/><circle cx="368.0" cy="273" r="2.3" fill="#1a5a1f"/>
<circle cx="368.0" cy="285.5" r="5.8" fill="url(#halo)"/><circle cx="368.0" cy="285.5" r="2.3" fill="#1a5a1f"/>
<circle cx="380.5" cy="147.8" r="3.8" fill="url(#wring)"/><circle cx="380.5" cy="147.8" r="2.4" fill="#262626"/>
<circle cx="380.5" cy="160.3" r="3.8" fill="url(#wring)"/><circle cx="380.5" cy="160.3" r="2.4" fill="#262626"/>
<circle cx="380.5" cy="172.8" r="3.8" fill="url(#wring)"/><circle cx="380.5" cy="172.8" r="2.4" fill="#262626"/>
<circle cx="380.5" cy="185.3" r="3.8" fill="url(#wring)"/><circle cx="380.5" cy="185.3" r="2.4" fill="#262626"/>
<circle cx="380.5" cy="197.8" r="3.8" fill="url(#wring)"/><circle cx="380.5" cy="197.8" r="2.4" fill="#262626"/>
<circle cx="380.5" cy="235.5" r="5.8" fill="url(#halo)"/><circle cx="380.5" cy="235.5" r="2.3" fill="#1a5a1f"/>
<circle cx="380.5" cy="248" r="5.8" fill="url(#halo)"/><circle cx="380.5" cy="248" r="2.3" fill="#1a5a1f"/>
<circle cx="380.5" cy="260.5" r="5.8" fill="url(#halo)"/><circle cx="380.5" cy="260.5" r="2.3" fill="#1a5a1f"/>
<circle cx="380.5" cy="273" r="5.8" fill="url(#halo)"/><circle cx="380.5" cy="273" r="2.3" fill="#1a5a1f"/>
<circle cx="380.5" cy="285.5" r="5.8" fill="url(#halo)"/><circle cx="380.5" cy="285.5" r="2.3" fill="#1a5a1f"/>
<circle cx="393.0" cy="147.8" r="3.8" fill="url(#wring)"/><circle cx="393.0" cy="147.8" r="2.4" fill="#262626"/>
<circle cx="393.0" cy="160.3" r="3.8" fill="url(#wring)"/><circle cx="393.0" cy="160.3" r="2.4" fill="#262626"/>
<circle cx="393.0" cy="172.8" r="3.8" fill="url(#wring)"/><circle cx="393.0" cy="172.8" r="2.4" fill="#262626"/>
<circle cx="393.0" cy="185.3" r="3.8" fill="url(#wring)"/><circle cx="393.0" cy="185.3" r="2.4" fill="#262626"/>
<circle cx="393.0" cy="197.8" r="3.8" fill="url(#wring)"/><circle cx="393.0" cy="197.8" r="2.4" fill="#262626"/>
<circle cx="393.0" cy="235.5" r="3.8" fill="url(#wring)"/><circle cx="393.0" cy="235.5" r="2.4" fill="#262626"/>
<circle cx="393.0" cy="248" r="3.8" fill="url(#wring)"/><circle cx="393.0" cy="248" r="2.4" fill="#262626"/>
<circle cx="393.0" cy="260.5" r="3.8" fill="url(#wring)"/><circle cx="393.0" cy="260.5" r="2.4" fill="#262626"/>
<circle cx="393.0" cy="273" r="3.8" fill="url(#wring)"/><circle cx="393.0" cy="273" r="2.4" fill="#262626"/>
<circle cx="393.0" cy="285.5" r="3.8" fill="url(#wring)"/><circle cx="393.0" cy="285.5" r="2.4" fill="#262626"/>
<circle cx="405.5" cy="147.8" r="3.8" fill="url(#wring)"/><circle cx="405.5" cy="147.8" r="2.4" fill="#262626"/>
<circle cx="405.5" cy="160.3" r="3.8" fill="url(#wring)"/><circle cx="405.5" cy="160.3" r="2.4" fill="#262626"/>
<circle cx="405.5" cy="172.8" r="3.8" fill="url(#wring)"/><circle cx="405.5" cy="172.8" r="2.4" fill="#262626"/>
<circle cx="405.5" cy="185.3" r="3.8" fill="url(#wring)"/><circle cx="405.5" cy="185.3" r="2.4" fill="#262626"/>
<circle cx="405.5" cy="197.8" r="3.8" fill="url(#wring)"/><circle cx="405.5" cy="197.8" r="2.4" fill="#262626"/>
<circle cx="405.5" cy="235.5" r="5.8" fill="url(#halo)"/><circle cx="405.5" cy="235.5" r="2.3" fill="#1a5a1f"/>
<circle cx="405.5" cy="248" r="5.8" fill="url(#halo)"/><circle cx="405.5" cy="248" r="2.3" fill="#1a5a1f"/>
<circle cx="405.5" cy="260.5" r="5.8" fill="url(#halo)"/><circle cx="405.5" cy="260.5" r="2.3" fill="#1a5a1f"/>
<circle cx="405.5" cy="273" r="5.8" fill="url(#halo)"/><circle cx="405.5" cy="273" r="2.3" fill="#1a5a1f"/>
<circle cx="405.5" cy="285.5" r="5.8" fill="url(#halo)"/><circle cx="405.5" cy="285.5" r="2.3" fill="#1a5a1f"/>
<circle cx="418.0" cy="147.8" r="3.8" fill="url(#wring)"/><circle cx="418.0" cy="147.8" r="2.4" fill="#262626"/>
<circle cx="418.0" cy="160.3" r="3.8" fill="url(#wring)"/><circle cx="418.0" cy="160.3" r="2.4" fill="#262626"/>
<circle cx="418.0" cy="172.8" r="3.8" fill="url(#wring)"/><circle cx="418.0" cy="172.8" r="2.4" fill="#262626"/>
<circle cx="418.0" cy="185.3" r="3.8" fill="url(#wring)"/><circle cx="418.0" cy="185.3" r="2.4" fill="#262626"/>
<circle cx="418.0" cy="197.8" r="3.8" fill="url(#wring)"/><circle cx="418.0" cy="197.8" r="2.4" fill="#262626"/>
<circle cx="418.0" cy="235.5" r="5.8" fill="url(#halo)"/><circle cx="418.0" cy="235.5" r="2.3" fill="#1a5a1f"/>
<circle cx="418.0" cy="248" r="5.8" fill="url(#halo)"/><circle cx="418.0" cy="248" r="2.3" fill="#1a5a1f"/>
<circle cx="418.0" cy="260.5" r="5.8" fill="url(#halo)"/><circle cx="418.0" cy="260.5" r="2.3" fill="#1a5a1f"/>
<circle cx="418.0" cy="273" r="5.8" fill="url(#halo)"/><circle cx="418.0" cy="273" r="2.3" fill="#1a5a1f"/>
<circle cx="418.0" cy="285.5" r="5.8" fill="url(#halo)"/><circle cx="418.0" cy="285.5" r="2.3" fill="#1a5a1f"/>
<circle cx="430.5" cy="147.8" r="3.8" fill="url(#wring)"/><circle cx="430.5" cy="147.8" r="2.4" fill="#262626"/>
<circle cx="430.5" cy="160.3" r="3.8" fill="url(#wring)"/><circle cx="430.5" cy="160.3" r="2.4" fill="#262626"/>
<circle cx="430.5" cy="172.8" r="3.8" fill="url(#wring)"/><circle cx="430.5" cy="172.8" r="2.4" fill="#262626"/>
<circle cx="430.5" cy="185.3" r="3.8" fill="url(#wring)"/><circle cx="430.5" cy="185.3" r="2.4" fill="#262626"/>
<circle cx="430.5" cy="197.8" r="3.8" fill="url(#wring)"/><circle cx="430.5" cy="197.8" r="2.4" fill="#262626"/>
<circle cx="430.5" cy="235.5" r="5.8" fill="url(#halo)"/><circle cx="430.5" cy="235.5" r="2.3" fill="#1a5a1f"/>
<circle cx="430.5" cy="248" r="5.8" fill="url(#halo)"/><circle cx="430.5" cy="248" r="2.3" fill="#1a5a1f"/>
<circle cx="430.5" cy="260.5" r="5.8" fill="url(#halo)"/><circle cx="430.5" cy="260.5" r="2.3" fill="#1a5a1f"/>
<circle cx="430.5" cy="273" r="5.8" fill="url(#halo)"/><circle cx="430.5" cy="273" r="2.3" fill="#1a5a1f"/>
<circle cx="430.5" cy="285.5" r="5.8" fill="url(#halo)"/><circle cx="430.5" cy="285.5" r="2.3" fill="#1a5a1f"/>
<circle cx="443.0" cy="147.8" r="3.8" fill="url(#wring)"/><circle cx="443.0" cy="147.8" r="2.4" fill="#262626"/>
<circle cx="443.0" cy="160.3" r="3.8" fill="url(#wring)"/><circle cx="443.0" cy="160.3" r="2.4" fill="#262626"/>
<circle cx="443.0" cy="172.8" r="3.8" fill="url(#wring)"/><circle cx="443.0" cy="172.8" r="2.4" fill="#262626"/>
<circle cx="443.0" cy="185.3" r="3.8" fill="url(#wring)"/><circle cx="443.0" cy="185.3" r="2.4" fill="#262626"/>
<circle cx="443.0" cy="197.8" r="3.8" fill="url(#wring)"/><circle cx="443.0" cy="197.8" r="2.4" fill="#262626"/>
<circle cx="443.0" cy="235.5" r="5.8" fill="url(#halo)"/><circle cx="443.0" cy="235.5" r="2.3" fill="#1a5a1f"/>
<circle cx="443.0" cy="248" r="5.8" fill="url(#halo)"/><circle cx="443.0" cy="248" r="2.3" fill="#1a5a1f"/>
<circle cx="443.0" cy="260.5" r="5.8" fill="url(#halo)"/><circle cx="443.0" cy="260.5" r="2.3" fill="#1a5a1f"/>
<circle cx="443.0" cy="273" r="5.8" fill="url(#halo)"/><circle cx="443.0" cy="273" r="2.3" fill="#1a5a1f"/>
<circle cx="443.0" cy="285.5" r="5.8" fill="url(#halo)"/><circle cx="443.0" cy="285.5" r="2.3" fill="#1a5a1f"/>
<circle cx="455.5" cy="147.8" r="3.8" fill="url(#wring)"/><circle cx="455.5" cy="147.8" r="2.4" fill="#262626"/>
<circle cx="455.5" cy="160.3" r="3.8" fill="url(#wring)"/><circle cx="455.5" cy="160.3" r="2.4" fill="#262626"/>
<circle cx="455.5" cy="172.8" r="3.8" fill="url(#wring)"/><circle cx="455.5" cy="172.8" r="2.4" fill="#262626"/>
<circle cx="455.5" cy="185.3" r="3.8" fill="url(#wring)"/><circle cx="455.5" cy="185.3" r="2.4" fill="#262626"/>
<circle cx="455.5" cy="197.8" r="3.8" fill="url(#wring)"/><circle cx="455.5" cy="197.8" r="2.4" fill="#262626"/>
<circle cx="455.5" cy="235.5" r="5.8" fill="url(#halo)"/><circle cx="455.5" cy="235.5" r="2.3" fill="#1a5a1f"/>
<circle cx="455.5" cy="248" r="5.8" fill="url(#halo)"/><circle cx="455.5" cy="248" r="2.3" fill="#1a5a1f"/>
<circle cx="455.5" cy="260.5" r="5.8" fill="url(#halo)"/><circle cx="455.5" cy="260.5" r="2.3" fill="#1a5a1f"/>
<circle cx="455.5" cy="273" r="5.8" fill="url(#halo)"/><circle cx="455.5" cy="273" r="2.3" fill="#1a5a1f"/>
<circle cx="455.5" cy="285.5" r="5.8" fill="url(#halo)"/><circle cx="455.5" cy="285.5" r="2.3" fill="#1a5a1f"/>
<circle cx="468.0" cy="147.8" r="3.8" fill="url(#wring)"/><circle cx="468.0" cy="147.8" r="2.4" fill="#262626"/>
<circle cx="468.0" cy="160.3" r="3.8" fill="url(#wring)"/><circle cx="468.0" cy="160.3" r="2.4" fill="#262626"/>
<circle cx="468.0" cy="172.8" r="3.8" fill="url(#wring)"/><circle cx="468.0" cy="172.8" r="2.4" fill="#262626"/>
<circle cx="468.0" cy="185.3" r="3.8" fill="url(#wring)"/><circle cx="468.0" cy="185.3" r="2.4" fill="#262626"/>
<circle cx="468.0" cy="197.8" r="3.8" fill="url(#wring)"/><circle cx="468.0" cy="197.8" r="2.4" fill="#262626"/>
<circle cx="468.0" cy="235.5" r="5.8" fill="url(#halo)"/><circle cx="468.0" cy="235.5" r="2.3" fill="#1a5a1f"/>
<circle cx="468.0" cy="248" r="5.8" fill="url(#halo)"/><circle cx="468.0" cy="248" r="2.3" fill="#1a5a1f"/>
<circle cx="468.0" cy="260.5" r="5.8" fill="url(#halo)"/><circle cx="468.0" cy="260.5" r="2.3" fill="#1a5a1f"/>
<circle cx="468.0" cy="273" r="5.8" fill="url(#halo)"/><circle cx="468.0" cy="273" r="2.3" fill="#1a5a1f"/>
<circle cx="468.0" cy="285.5" r="5.8" fill="url(#halo)"/><circle cx="468.0" cy="285.5" r="2.3" fill="#1a5a1f"/>
<circle cx="480.5" cy="147.8" r="3.8" fill="url(#wring)"/><circle cx="480.5" cy="147.8" r="2.4" fill="#262626"/>
<circle cx="480.5" cy="160.3" r="3.8" fill="url(#wring)"/><circle cx="480.5" cy="160.3" r="2.4" fill="#262626"/>
<circle cx="480.5" cy="172.8" r="3.8" fill="url(#wring)"/><circle cx="480.5" cy="172.8" r="2.4" fill="#262626"/>
<circle cx="480.5" cy="185.3" r="3.8" fill="url(#wring)"/><circle cx="480.5" cy="185.3" r="2.4" fill="#262626"/>
<circle cx="480.5" cy="197.8" r="3.8" fill="url(#wring)"/><circle cx="480.5" cy="197.8" r="2.4" fill="#262626"/>
<circle cx="480.5" cy="235.5" r="5.8" fill="url(#halo)"/><circle cx="480.5" cy="235.5" r="2.3" fill="#1a5a1f"/>
<circle cx="480.5" cy="248" r="5.8" fill="url(#halo)"/><circle cx="480.5" cy="248" r="2.3" fill="#1a5a1f"/>
<circle cx="480.5" cy="260.5" r="5.8" fill="url(#halo)"/><circle cx="480.5" cy="260.5" r="2.3" fill="#1a5a1f"/>
<circle cx="480.5" cy="273" r="5.8" fill="url(#halo)"/><circle cx="480.5" cy="273" r="2.3" fill="#1a5a1f"/>
<circle cx="480.5" cy="285.5" r="5.8" fill="url(#halo)"/><circle cx="480.5" cy="285.5" r="2.3" fill="#1a5a1f"/>
<circle cx="493.0" cy="147.8" r="3.8" fill="url(#wring)"/><circle cx="493.0" cy="147.8" r="2.4" fill="#262626"/>
<circle cx="493.0" cy="160.3" r="3.8" fill="url(#wring)"/><circle cx="493.0" cy="160.3" r="2.4" fill="#262626"/>
<circle cx="493.0" cy="172.8" r="3.8" fill="url(#wring)"/><circle cx="493.0" cy="172.8" r="2.4" fill="#262626"/>
<circle cx="493.0" cy="185.3" r="3.8" fill="url(#wring)"/><circle cx="493.0" cy="185.3" r="2.4" fill="#262626"/>
<circle cx="493.0" cy="197.8" r="3.8" fill="url(#wring)"/><circle cx="493.0" cy="197.8" r="2.4" fill="#262626"/>
<circle cx="493.0" cy="235.5" r="3.8" fill="url(#wring)"/><circle cx="493.0" cy="235.5" r="2.4" fill="#262626"/>
<circle cx="493.0" cy="248" r="3.8" fill="url(#wring)"/><circle cx="493.0" cy="248" r="2.4" fill="#262626"/>
<circle cx="493.0" cy="260.5" r="3.8" fill="url(#wring)"/><circle cx="493.0" cy="260.5" r="2.4" fill="#262626"/>
<circle cx="493.0" cy="273" r="3.8" fill="url(#wring)"/><circle cx="493.0" cy="273" r="2.4" fill="#262626"/>
<circle cx="493.0" cy="285.5" r="3.8" fill="url(#wring)"/><circle cx="493.0" cy="285.5" r="2.4" fill="#262626"/>
<circle cx="505.5" cy="147.8" r="3.8" fill="url(#wring)"/><circle cx="505.5" cy="147.8" r="2.4" fill="#262626"/>
<circle cx="505.5" cy="160.3" r="3.8" fill="url(#wring)"/><circle cx="505.5" cy="160.3" r="2.4" fill="#262626"/>
<circle cx="505.5" cy="172.8" r="3.8" fill="url(#wring)"/><circle cx="505.5" cy="172.8" r="2.4" fill="#262626"/>
<circle cx="505.5" cy="185.3" r="3.8" fill="url(#wring)"/><circle cx="505.5" cy="185.3" r="2.4" fill="#262626"/>
<circle cx="505.5" cy="197.8" r="3.8" fill="url(#wring)"/><circle cx="505.5" cy="197.8" r="2.4" fill="#262626"/>
<circle cx="505.5" cy="235.5" r="3.8" fill="url(#wring)"/><circle cx="505.5" cy="235.5" r="2.4" fill="#262626"/>
<circle cx="505.5" cy="248" r="3.8" fill="url(#wring)"/><circle cx="505.5" cy="248" r="2.4" fill="#262626"/>
<circle cx="505.5" cy="260.5" r="3.8" fill="url(#wring)"/><circle cx="505.5" cy="260.5" r="2.4" fill="#262626"/>
<circle cx="505.5" cy="273" r="3.8" fill="url(#wring)"/><circle cx="505.5" cy="273" r="2.4" fill="#262626"/>
<circle cx="505.5" cy="285.5" r="3.8" fill="url(#wring)"/><circle cx="505.5" cy="285.5" r="2.4" fill="#262626"/>
<circle cx="518.0" cy="147.8" r="3.8" fill="url(#wring)"/><circle cx="518.0" cy="147.8" r="2.4" fill="#262626"/>
<circle cx="518.0" cy="160.3" r="3.8" fill="url(#wring)"/><circle cx="518.0" cy="160.3" r="2.4" fill="#262626"/>
<circle cx="518.0" cy="172.8" r="3.8" fill="url(#wring)"/><circle cx="518.0" cy="172.8" r="2.4" fill="#262626"/>
<circle cx="518.0" cy="185.3" r="3.8" fill="url(#wring)"/><circle cx="518.0" cy="185.3" r="2.4" fill="#262626"/>
<circle cx="518.0" cy="197.8" r="3.8" fill="url(#wring)"/><circle cx="518.0" cy="197.8" r="2.4" fill="#262626"/>
<circle cx="518.0" cy="235.5" r="3.8" fill="url(#wring)"/><circle cx="518.0" cy="235.5" r="2.4" fill="#262626"/>
<circle cx="518.0" cy="248" r="3.8" fill="url(#wring)"/><circle cx="518.0" cy="248" r="2.4" fill="#262626"/>
<circle cx="518.0" cy="260.5" r="3.8" fill="url(#wring)"/><circle cx="518.0" cy="260.5" r="2.4" fill="#262626"/>
<circle cx="518.0" cy="273" r="3.8" fill="url(#wring)"/><circle cx="518.0" cy="273" r="2.4" fill="#262626"/>
<circle cx="518.0" cy="285.5" r="3.8" fill="url(#wring)"/><circle cx="518.0" cy="285.5" r="2.4" fill="#262626"/>
<circle cx="530.5" cy="147.8" r="3.8" fill="url(#wring)"/><circle cx="530.5" cy="147.8" r="2.4" fill="#262626"/>
<circle cx="530.5" cy="160.3" r="3.8" fill="url(#wring)"/><circle cx="530.5" cy="160.3" r="2.4" fill="#262626"/>
<circle cx="530.5" cy="172.8" r="3.8" fill="url(#wring)"/><circle cx="530.5" cy="172.8" r="2.4" fill="#262626"/>
<circle cx="530.5" cy="185.3" r="3.8" fill="url(#wring)"/><circle cx="530.5" cy="185.3" r="2.4" fill="#262626"/>
<circle cx="530.5" cy="197.8" r="3.8" fill="url(#wring)"/><circle cx="530.5" cy="197.8" r="2.4" fill="#262626"/>
<circle cx="530.5" cy="235.5" r="3.8" fill="url(#wring)"/><circle cx="530.5" cy="235.5" r="2.4" fill="#262626"/>
<circle cx="530.5" cy="248" r="3.8" fill="url(#wring)"/><circle cx="530.5" cy="248" r="2.4" fill="#262626"/>
<circle cx="530.5" cy="260.5" r="3.8" fill="url(#wring)"/><circle cx="530.5" cy="260.5" r="2.4" fill="#262626"/>
<circle cx="530.5" cy="273" r="3.8" fill="url(#wring)"/><circle cx="530.5" cy="273" r="2.4" fill="#262626"/>
<circle cx="530.5" cy="285.5" r="3.8" fill="url(#wring)"/><circle cx="530.5" cy="285.5" r="2.4" fill="#262626"/>
<circle cx="543.0" cy="147.8" r="3.8" fill="url(#wring)"/><circle cx="543.0" cy="147.8" r="2.4" fill="#262626"/>
<circle cx="543.0" cy="160.3" r="3.8" fill="url(#wring)"/><circle cx="543.0" cy="160.3" r="2.4" fill="#262626"/>
<circle cx="543.0" cy="172.8" r="3.8" fill="url(#wring)"/><circle cx="543.0" cy="172.8" r="2.4" fill="#262626"/>
<circle cx="543.0" cy="185.3" r="3.8" fill="url(#wring)"/><circle cx="543.0" cy="185.3" r="2.4" fill="#262626"/>
<circle cx="543.0" cy="197.8" r="3.8" fill="url(#wring)"/><circle cx="543.0" cy="197.8" r="2.4" fill="#262626"/>
<circle cx="543.0" cy="235.5" r="3.8" fill="url(#wring)"/><circle cx="543.0" cy="235.5" r="2.4" fill="#262626"/>
<circle cx="543.0" cy="248" r="3.8" fill="url(#wring)"/><circle cx="543.0" cy="248" r="2.4" fill="#262626"/>
<circle cx="543.0" cy="260.5" r="3.8" fill="url(#wring)"/><circle cx="543.0" cy="260.5" r="2.4" fill="#262626"/>
<circle cx="543.0" cy="273" r="3.8" fill="url(#wring)"/><circle cx="543.0" cy="273" r="2.4" fill="#262626"/>
<circle cx="543.0" cy="285.5" r="3.8" fill="url(#wring)"/><circle cx="543.0" cy="285.5" r="2.4" fill="#262626"/>
<circle cx="555.5" cy="147.8" r="3.8" fill="url(#wring)"/><circle cx="555.5" cy="147.8" r="2.4" fill="#262626"/>
<circle cx="555.5" cy="160.3" r="3.8" fill="url(#wring)"/><circle cx="555.5" cy="160.3" r="2.4" fill="#262626"/>
<circle cx="555.5" cy="172.8" r="3.8" fill="url(#wring)"/><circle cx="555.5" cy="172.8" r="2.4" fill="#262626"/>
<circle cx="555.5" cy="185.3" r="3.8" fill="url(#wring)"/><circle cx="555.5" cy="185.3" r="2.4" fill="#262626"/>
<circle cx="555.5" cy="197.8" r="3.8" fill="url(#wring)"/><circle cx="555.5" cy="197.8" r="2.4" fill="#262626"/>
<circle cx="555.5" cy="235.5" r="3.8" fill="url(#wring)"/><circle cx="555.5" cy="235.5" r="2.4" fill="#262626"/>
<circle cx="555.5" cy="248" r="3.8" fill="url(#wring)"/><circle cx="555.5" cy="248" r="2.4" fill="#262626"/>
<circle cx="555.5" cy="260.5" r="3.8" fill="url(#wring)"/><circle cx="555.5" cy="260.5" r="2.4" fill="#262626"/>
<circle cx="555.5" cy="273" r="3.8" fill="url(#wring)"/><circle cx="555.5" cy="273" r="2.4" fill="#262626"/>
<circle cx="555.5" cy="285.5" r="3.8" fill="url(#wring)"/><circle cx="555.5" cy="285.5" r="2.4" fill="#262626"/>
<circle cx="568.0" cy="147.8" r="3.8" fill="url(#wring)"/><circle cx="568.0" cy="147.8" r="2.4" fill="#262626"/>
<circle cx="568.0" cy="160.3" r="3.8" fill="url(#wring)"/><circle cx="568.0" cy="160.3" r="2.4" fill="#262626"/>
<circle cx="568.0" cy="172.8" r="3.8" fill="url(#wring)"/><circle cx="568.0" cy="172.8" r="2.4" fill="#262626"/>
<circle cx="568.0" cy="185.3" r="3.8" fill="url(#wring)"/><circle cx="568.0" cy="185.3" r="2.4" fill="#262626"/>
<circle cx="568.0" cy="197.8" r="3.8" fill="url(#wring)"/><circle cx="568.0" cy="197.8" r="2.4" fill="#262626"/>
<circle cx="568.0" cy="235.5" r="3.8" fill="url(#wring)"/><circle cx="568.0" cy="235.5" r="2.4" fill="#262626"/>
<circle cx="568.0" cy="248" r="3.8" fill="url(#wring)"/><circle cx="568.0" cy="248" r="2.4" fill="#262626"/>
<circle cx="568.0" cy="260.5" r="3.8" fill="url(#wring)"/><circle cx="568.0" cy="260.5" r="2.4" fill="#262626"/>
<circle cx="568.0" cy="273" r="3.8" fill="url(#wring)"/><circle cx="568.0" cy="273" r="2.4" fill="#262626"/>
<circle cx="568.0" cy="285.5" r="3.8" fill="url(#wring)"/><circle cx="568.0" cy="285.5" r="2.4" fill="#262626"/>
<circle cx="580.5" cy="147.8" r="3.8" fill="url(#wring)"/><circle cx="580.5" cy="147.8" r="2.4" fill="#262626"/>
<circle cx="580.5" cy="160.3" r="3.8" fill="url(#wring)"/><circle cx="580.5" cy="160.3" r="2.4" fill="#262626"/>
<circle cx="580.5" cy="172.8" r="3.8" fill="url(#wring)"/><circle cx="580.5" cy="172.8" r="2.4" fill="#262626"/>
<circle cx="580.5" cy="185.3" r="3.8" fill="url(#wring)"/><circle cx="580.5" cy="185.3" r="2.4" fill="#262626"/>
<circle cx="580.5" cy="197.8" r="3.8" fill="url(#wring)"/><circle cx="580.5" cy="197.8" r="2.4" fill="#262626"/>
<circle cx="580.5" cy="235.5" r="3.8" fill="url(#wring)"/><circle cx="580.5" cy="235.5" r="2.4" fill="#262626"/>
<circle cx="580.5" cy="248" r="3.8" fill="url(#wring)"/><circle cx="580.5" cy="248" r="2.4" fill="#262626"/>
<circle cx="580.5" cy="260.5" r="3.8" fill="url(#wring)"/><circle cx="580.5" cy="260.5" r="2.4" fill="#262626"/>
<circle cx="580.5" cy="273" r="3.8" fill="url(#wring)"/><circle cx="580.5" cy="273" r="2.4" fill="#262626"/>
<circle cx="580.5" cy="285.5" r="3.8" fill="url(#wring)"/><circle cx="580.5" cy="285.5" r="2.4" fill="#262626"/>
<circle cx="593.0" cy="147.8" r="3.8" fill="url(#wring)"/><circle cx="593.0" cy="147.8" r="2.4" fill="#262626"/>
<circle cx="593.0" cy="160.3" r="3.8" fill="url(#wring)"/><circle cx="593.0" cy="160.3" r="2.4" fill="#262626"/>
<circle cx="593.0" cy="172.8" r="3.8" fill="url(#wring)"/><circle cx="593.0" cy="172.8" r="2.4" fill="#262626"/>
<circle cx="593.0" cy="185.3" r="3.8" fill="url(#wring)"/><circle cx="593.0" cy="185.3" r="2.4" fill="#262626"/>
<circle cx="593.0" cy="197.8" r="3.8" fill="url(#wring)"/><circle cx="593.0" cy="197.8" r="2.4" fill="#262626"/>
<circle cx="593.0" cy="235.5" r="3.8" fill="url(#wring)"/><circle cx="593.0" cy="235.5" r="2.4" fill="#262626"/>
<circle cx="593.0" cy="248" r="3.8" fill="url(#wring)"/><circle cx="593.0" cy="248" r="2.4" fill="#262626"/>
<circle cx="593.0" cy="260.5" r="3.8" fill="url(#wring)"/><circle cx="593.0" cy="260.5" r="2.4" fill="#262626"/>
<circle cx="593.0" cy="273" r="3.8" fill="url(#wring)"/><circle cx="593.0" cy="273" r="2.4" fill="#262626"/>
<circle cx="593.0" cy="285.5" r="3.8" fill="url(#wring)"/><circle cx="593.0" cy="285.5" r="2.4" fill="#262626"/>
<circle cx="605.5" cy="147.8" r="3.8" fill="url(#wring)"/><circle cx="605.5" cy="147.8" r="2.4" fill="#262626"/>
<circle cx="605.5" cy="160.3" r="3.8" fill="url(#wring)"/><circle cx="605.5" cy="160.3" r="2.4" fill="#262626"/>
<circle cx="605.5" cy="172.8" r="3.8" fill="url(#wring)"/><circle cx="605.5" cy="172.8" r="2.4" fill="#262626"/>
<circle cx="605.5" cy="185.3" r="3.8" fill="url(#wring)"/><circle cx="605.5" cy="185.3" r="2.4" fill="#262626"/>
<circle cx="605.5" cy="197.8" r="3.8" fill="url(#wring)"/><circle cx="605.5" cy="197.8" r="2.4" fill="#262626"/>
<circle cx="605.5" cy="235.5" r="5.8" fill="url(#halo)"/><circle cx="605.5" cy="235.5" r="2.3" fill="#1a5a1f"/>
<circle cx="605.5" cy="248" r="5.8" fill="url(#halo)"/><circle cx="605.5" cy="248" r="2.3" fill="#1a5a1f"/>
<circle cx="605.5" cy="260.5" r="5.8" fill="url(#halo)"/><circle cx="605.5" cy="260.5" r="2.3" fill="#1a5a1f"/>
<circle cx="605.5" cy="273" r="5.8" fill="url(#halo)"/><circle cx="605.5" cy="273" r="2.3" fill="#1a5a1f"/>
<circle cx="605.5" cy="285.5" r="5.8" fill="url(#halo)"/><circle cx="605.5" cy="285.5" r="2.3" fill="#1a5a1f"/>
<circle cx="618.0" cy="147.8" r="3.8" fill="url(#wring)"/><circle cx="618.0" cy="147.8" r="2.4" fill="#262626"/>
<circle cx="618.0" cy="160.3" r="3.8" fill="url(#wring)"/><circle cx="618.0" cy="160.3" r="2.4" fill="#262626"/>
<circle cx="618.0" cy="172.8" r="3.8" fill="url(#wring)"/><circle cx="618.0" cy="172.8" r="2.4" fill="#262626"/>
<circle cx="618.0" cy="185.3" r="3.8" fill="url(#wring)"/><circle cx="618.0" cy="185.3" r="2.4" fill="#262626"/>
<circle cx="618.0" cy="197.8" r="3.8" fill="url(#wring)"/><circle cx="618.0" cy="197.8" r="2.4" fill="#262626"/>
<circle cx="618.0" cy="235.5" r="5.8" fill="url(#halo)"/><circle cx="618.0" cy="235.5" r="2.3" fill="#1a5a1f"/>
<circle cx="618.0" cy="248" r="5.8" fill="url(#halo)"/><circle cx="618.0" cy="248" r="2.3" fill="#1a5a1f"/>
<circle cx="618.0" cy="260.5" r="5.8" fill="url(#halo)"/><circle cx="618.0" cy="260.5" r="2.3" fill="#1a5a1f"/>
<circle cx="618.0" cy="273" r="5.8" fill="url(#halo)"/><circle cx="618.0" cy="273" r="2.3" fill="#1a5a1f"/>
<circle cx="618.0" cy="285.5" r="5.8" fill="url(#halo)"/><circle cx="618.0" cy="285.5" r="2.3" fill="#1a5a1f"/>
<circle cx="630.5" cy="147.8" r="3.8" fill="url(#wring)"/><circle cx="630.5" cy="147.8" r="2.4" fill="#262626"/>
<circle cx="630.5" cy="160.3" r="3.8" fill="url(#wring)"/><circle cx="630.5" cy="160.3" r="2.4" fill="#262626"/>
<circle cx="630.5" cy="172.8" r="3.8" fill="url(#wring)"/><circle cx="630.5" cy="172.8" r="2.4" fill="#262626"/>
<circle cx="630.5" cy="185.3" r="3.8" fill="url(#wring)"/><circle cx="630.5" cy="185.3" r="2.4" fill="#262626"/>
<circle cx="630.5" cy="197.8" r="3.8" fill="url(#wring)"/><circle cx="630.5" cy="197.8" r="2.4" fill="#262626"/>
<circle cx="630.5" cy="235.5" r="5.8" fill="url(#halo)"/><circle cx="630.5" cy="235.5" r="2.3" fill="#1a5a1f"/>
<circle cx="630.5" cy="248" r="5.8" fill="url(#halo)"/><circle cx="630.5" cy="248" r="2.3" fill="#1a5a1f"/>
<circle cx="630.5" cy="260.5" r="5.8" fill="url(#halo)"/><circle cx="630.5" cy="260.5" r="2.3" fill="#1a5a1f"/>
<circle cx="630.5" cy="273" r="5.8" fill="url(#halo)"/><circle cx="630.5" cy="273" r="2.3" fill="#1a5a1f"/>
<circle cx="630.5" cy="285.5" r="5.8" fill="url(#halo)"/><circle cx="630.5" cy="285.5" r="2.3" fill="#1a5a1f"/>
<circle cx="643.0" cy="147.8" r="3.8" fill="url(#wring)"/><circle cx="643.0" cy="147.8" r="2.4" fill="#262626"/>
<circle cx="643.0" cy="160.3" r="3.8" fill="url(#wring)"/><circle cx="643.0" cy="160.3" r="2.4" fill="#262626"/>
<circle cx="643.0" cy="172.8" r="3.8" fill="url(#wring)"/><circle cx="643.0" cy="172.8" r="2.4" fill="#262626"/>
<circle cx="643.0" cy="185.3" r="3.8" fill="url(#wring)"/><circle cx="643.0" cy="185.3" r="2.4" fill="#262626"/>
<circle cx="643.0" cy="197.8" r="3.8" fill="url(#wring)"/><circle cx="643.0" cy="197.8" r="2.4" fill="#262626"/>
<circle cx="643.0" cy="235.5" r="5.8" fill="url(#halo)"/><circle cx="643.0" cy="235.5" r="2.3" fill="#1a5a1f"/>
<circle cx="643.0" cy="248" r="5.8" fill="url(#halo)"/><circle cx="643.0" cy="248" r="2.3" fill="#1a5a1f"/>
<circle cx="643.0" cy="260.5" r="5.8" fill="url(#halo)"/><circle cx="643.0" cy="260.5" r="2.3" fill="#1a5a1f"/>
<circle cx="643.0" cy="273" r="5.8" fill="url(#halo)"/><circle cx="643.0" cy="273" r="2.3" fill="#1a5a1f"/>
<circle cx="643.0" cy="285.5" r="5.8" fill="url(#halo)"/><circle cx="643.0" cy="285.5" r="2.3" fill="#1a5a1f"/>
<circle cx="655.5" cy="147.8" r="3.8" fill="url(#wring)"/><circle cx="655.5" cy="147.8" r="2.4" fill="#262626"/>
<circle cx="655.5" cy="160.3" r="3.8" fill="url(#wring)"/><circle cx="655.5" cy="160.3" r="2.4" fill="#262626"/>
<circle cx="655.5" cy="172.8" r="3.8" fill="url(#wring)"/><circle cx="655.5" cy="172.8" r="2.4" fill="#262626"/>
<circle cx="655.5" cy="185.3" r="3.8" fill="url(#wring)"/><circle cx="655.5" cy="185.3" r="2.4" fill="#262626"/>
<circle cx="655.5" cy="197.8" r="3.8" fill="url(#wring)"/><circle cx="655.5" cy="197.8" r="2.4" fill="#262626"/>
<circle cx="655.5" cy="235.5" r="5.8" fill="url(#halo)"/><circle cx="655.5" cy="235.5" r="2.3" fill="#1a5a1f"/>
<circle cx="655.5" cy="248" r="5.8" fill="url(#halo)"/><circle cx="655.5" cy="248" r="2.3" fill="#1a5a1f"/>
<circle cx="655.5" cy="260.5" r="5.8" fill="url(#halo)"/><circle cx="655.5" cy="260.5" r="2.3" fill="#1a5a1f"/>
<circle cx="655.5" cy="273" r="5.8" fill="url(#halo)"/><circle cx="655.5" cy="273" r="2.3" fill="#1a5a1f"/>
<circle cx="655.5" cy="285.5" r="5.8" fill="url(#halo)"/><circle cx="655.5" cy="285.5" r="2.3" fill="#1a5a1f"/>
<circle cx="668.0" cy="147.8" r="3.8" fill="url(#wring)"/><circle cx="668.0" cy="147.8" r="2.4" fill="#262626"/>
<circle cx="668.0" cy="160.3" r="3.8" fill="url(#wring)"/><circle cx="668.0" cy="160.3" r="2.4" fill="#262626"/>
<circle cx="668.0" cy="172.8" r="3.8" fill="url(#wring)"/><circle cx="668.0" cy="172.8" r="2.4" fill="#262626"/>
<circle cx="668.0" cy="185.3" r="3.8" fill="url(#wring)"/><circle cx="668.0" cy="185.3" r="2.4" fill="#262626"/>
<circle cx="668.0" cy="197.8" r="3.8" fill="url(#wring)"/><circle cx="668.0" cy="197.8" r="2.4" fill="#262626"/>
<circle cx="668.0" cy="235.5" r="5.8" fill="url(#halo)"/><circle cx="668.0" cy="235.5" r="2.3" fill="#1a5a1f"/>
<circle cx="668.0" cy="248" r="5.8" fill="url(#halo)"/><circle cx="668.0" cy="248" r="2.3" fill="#1a5a1f"/>
<circle cx="668.0" cy="260.5" r="5.8" fill="url(#halo)"/><circle cx="668.0" cy="260.5" r="2.3" fill="#1a5a1f"/>
<circle cx="668.0" cy="273" r="5.8" fill="url(#halo)"/><circle cx="668.0" cy="273" r="2.3" fill="#1a5a1f"/>
<circle cx="668.0" cy="285.5" r="5.8" fill="url(#halo)"/><circle cx="668.0" cy="285.5" r="2.3" fill="#1a5a1f"/>
<circle cx="680.5" cy="147.8" r="3.8" fill="url(#wring)"/><circle cx="680.5" cy="147.8" r="2.4" fill="#262626"/>
<circle cx="680.5" cy="160.3" r="3.8" fill="url(#wring)"/><circle cx="680.5" cy="160.3" r="2.4" fill="#262626"/>
<circle cx="680.5" cy="172.8" r="3.8" fill="url(#wring)"/><circle cx="680.5" cy="172.8" r="2.4" fill="#262626"/>
<circle cx="680.5" cy="185.3" r="3.8" fill="url(#wring)"/><circle cx="680.5" cy="185.3" r="2.4" fill="#262626"/>
<circle cx="680.5" cy="197.8" r="3.8" fill="url(#wring)"/><circle cx="680.5" cy="197.8" r="2.4" fill="#262626"/>
<circle cx="680.5" cy="235.5" r="5.8" fill="url(#halo)"/><circle cx="680.5" cy="235.5" r="2.3" fill="#1a5a1f"/>
<circle cx="680.5" cy="248" r="5.8" fill="url(#halo)"/><circle cx="680.5" cy="248" r="2.3" fill="#1a5a1f"/>
<circle cx="680.5" cy="260.5" r="5.8" fill="url(#halo)"/><circle cx="680.5" cy="260.5" r="2.3" fill="#1a5a1f"/>
<circle cx="680.5" cy="273" r="5.8" fill="url(#halo)"/><circle cx="680.5" cy="273" r="2.3" fill="#1a5a1f"/>
<circle cx="680.5" cy="285.5" r="5.8" fill="url(#halo)"/><circle cx="680.5" cy="285.5" r="2.3" fill="#1a5a1f"/>
<circle cx="693.0" cy="147.8" r="3.8" fill="url(#wring)"/><circle cx="693.0" cy="147.8" r="2.4" fill="#262626"/>
<circle cx="693.0" cy="160.3" r="3.8" fill="url(#wring)"/><circle cx="693.0" cy="160.3" r="2.4" fill="#262626"/>
<circle cx="693.0" cy="172.8" r="3.8" fill="url(#wring)"/><circle cx="693.0" cy="172.8" r="2.4" fill="#262626"/>
<circle cx="693.0" cy="185.3" r="3.8" fill="url(#wring)"/><circle cx="693.0" cy="185.3" r="2.4" fill="#262626"/>
<circle cx="693.0" cy="197.8" r="3.8" fill="url(#wring)"/><circle cx="693.0" cy="197.8" r="2.4" fill="#262626"/>
<circle cx="693.0" cy="235.5" r="5.8" fill="url(#halo)"/><circle cx="693.0" cy="235.5" r="2.3" fill="#1a5a1f"/>
<circle cx="693.0" cy="248" r="5.8" fill="url(#halo)"/><circle cx="693.0" cy="248" r="2.3" fill="#1a5a1f"/>
<circle cx="693.0" cy="260.5" r="5.8" fill="url(#halo)"/><circle cx="693.0" cy="260.5" r="2.3" fill="#1a5a1f"/>
<circle cx="693.0" cy="273" r="5.8" fill="url(#halo)"/><circle cx="693.0" cy="273" r="2.3" fill="#1a5a1f"/>
<circle cx="693.0" cy="285.5" r="5.8" fill="url(#halo)"/><circle cx="693.0" cy="285.5" r="2.3" fill="#1a5a1f"/>
<circle cx="705.5" cy="147.8" r="3.8" fill="url(#wring)"/><circle cx="705.5" cy="147.8" r="2.4" fill="#262626"/>
<circle cx="705.5" cy="160.3" r="3.8" fill="url(#wring)"/><circle cx="705.5" cy="160.3" r="2.4" fill="#262626"/>
<circle cx="705.5" cy="172.8" r="3.8" fill="url(#wring)"/><circle cx="705.5" cy="172.8" r="2.4" fill="#262626"/>
<circle cx="705.5" cy="185.3" r="3.8" fill="url(#wring)"/><circle cx="705.5" cy="185.3" r="2.4" fill="#262626"/>
<circle cx="705.5" cy="197.8" r="3.8" fill="url(#wring)"/><circle cx="705.5" cy="197.8" r="2.4" fill="#262626"/>
<circle cx="705.5" cy="235.5" r="5.8" fill="url(#halo)"/><circle cx="705.5" cy="235.5" r="2.3" fill="#1a5a1f"/>
<circle cx="705.5" cy="248" r="5.8" fill="url(#halo)"/><circle cx="705.5" cy="248" r="2.3" fill="#1a5a1f"/>
<circle cx="705.5" cy="260.5" r="5.8" fill="url(#halo)"/><circle cx="705.5" cy="260.5" r="2.3" fill="#1a5a1f"/>
<circle cx="705.5" cy="273" r="5.8" fill="url(#halo)"/><circle cx="705.5" cy="273" r="2.3" fill="#1a5a1f"/>
<circle cx="705.5" cy="285.5" r="5.8" fill="url(#halo)"/><circle cx="705.5" cy="285.5" r="2.3" fill="#1a5a1f"/>
<circle cx="718.0" cy="147.8" r="3.8" fill="url(#wring)"/><circle cx="718.0" cy="147.8" r="2.4" fill="#262626"/>
<circle cx="718.0" cy="160.3" r="3.8" fill="url(#wring)"/><circle cx="718.0" cy="160.3" r="2.4" fill="#262626"/>
<circle cx="718.0" cy="172.8" r="3.8" fill="url(#wring)"/><circle cx="718.0" cy="172.8" r="2.4" fill="#262626"/>
<circle cx="718.0" cy="185.3" r="3.8" fill="url(#wring)"/><circle cx="718.0" cy="185.3" r="2.4" fill="#262626"/>
<circle cx="718.0" cy="197.8" r="3.8" fill="url(#wring)"/><circle cx="718.0" cy="197.8" r="2.4" fill="#262626"/>
<circle cx="718.0" cy="235.5" r="5.8" fill="url(#halo)"/><circle cx="718.0" cy="235.5" r="2.3" fill="#1a5a1f"/>
<circle cx="718.0" cy="248" r="5.8" fill="url(#halo)"/><circle cx="718.0" cy="248" r="2.3" fill="#1a5a1f"/>
<circle cx="718.0" cy="260.5" r="5.8" fill="url(#halo)"/><circle cx="718.0" cy="260.5" r="2.3" fill="#1a5a1f"/>
<circle cx="718.0" cy="273" r="5.8" fill="url(#halo)"/><circle cx="718.0" cy="273" r="2.3" fill="#1a5a1f"/>
<circle cx="718.0" cy="285.5" r="5.8" fill="url(#halo)"/><circle cx="718.0" cy="285.5" r="2.3" fill="#1a5a1f"/>
<circle cx="730.5" cy="147.8" r="3.8" fill="url(#wring)"/><circle cx="730.5" cy="147.8" r="2.4" fill="#262626"/>
<circle cx="730.5" cy="160.3" r="3.8" fill="url(#wring)"/><circle cx="730.5" cy="160.3" r="2.4" fill="#262626"/>
<circle cx="730.5" cy="172.8" r="3.8" fill="url(#wring)"/><circle cx="730.5" cy="172.8" r="2.4" fill="#262626"/>
<circle cx="730.5" cy="185.3" r="3.8" fill="url(#wring)"/><circle cx="730.5" cy="185.3" r="2.4" fill="#262626"/>
<circle cx="730.5" cy="197.8" r="3.8" fill="url(#wring)"/><circle cx="730.5" cy="197.8" r="2.4" fill="#262626"/>
<circle cx="730.5" cy="235.5" r="5.8" fill="url(#halo)"/><circle cx="730.5" cy="235.5" r="2.3" fill="#1a5a1f"/>
<circle cx="730.5" cy="248" r="5.8" fill="url(#halo)"/><circle cx="730.5" cy="248" r="2.3" fill="#1a5a1f"/>
<circle cx="730.5" cy="260.5" r="5.8" fill="url(#halo)"/><circle cx="730.5" cy="260.5" r="2.3" fill="#1a5a1f"/>
<circle cx="730.5" cy="273" r="5.8" fill="url(#halo)"/><circle cx="730.5" cy="273" r="2.3" fill="#1a5a1f"/>
<circle cx="730.5" cy="285.5" r="5.8" fill="url(#halo)"/><circle cx="730.5" cy="285.5" r="2.3" fill="#1a5a1f"/>
<circle cx="743.0" cy="147.8" r="3.8" fill="url(#wring)"/><circle cx="743.0" cy="147.8" r="2.4" fill="#262626"/>
<circle cx="743.0" cy="160.3" r="3.8" fill="url(#wring)"/><circle cx="743.0" cy="160.3" r="2.4" fill="#262626"/>
<circle cx="743.0" cy="172.8" r="3.8" fill="url(#wring)"/><circle cx="743.0" cy="172.8" r="2.4" fill="#262626"/>
<circle cx="743.0" cy="185.3" r="3.8" fill="url(#wring)"/><circle cx="743.0" cy="185.3" r="2.4" fill="#262626"/>
<circle cx="743.0" cy="197.8" r="3.8" fill="url(#wring)"/><circle cx="743.0" cy="197.8" r="2.4" fill="#262626"/>
<circle cx="743.0" cy="235.5" r="5.8" fill="url(#halo)"/><circle cx="743.0" cy="235.5" r="2.3" fill="#1a5a1f"/>
<circle cx="743.0" cy="248" r="5.8" fill="url(#halo)"/><circle cx="743.0" cy="248" r="2.3" fill="#1a5a1f"/>
<circle cx="743.0" cy="260.5" r="5.8" fill="url(#halo)"/><circle cx="743.0" cy="260.5" r="2.3" fill="#1a5a1f"/>
<circle cx="743.0" cy="273" r="5.8" fill="url(#halo)"/><circle cx="743.0" cy="273" r="2.3" fill="#1a5a1f"/>
<circle cx="743.0" cy="285.5" r="5.8" fill="url(#halo)"/><circle cx="743.0" cy="285.5" r="2.3" fill="#1a5a1f"/>
<circle cx="755.5" cy="147.8" r="3.8" fill="url(#wring)"/><circle cx="755.5" cy="147.8" r="2.4" fill="#262626"/>
<circle cx="755.5" cy="160.3" r="3.8" fill="url(#wring)"/><circle cx="755.5" cy="160.3" r="2.4" fill="#262626"/>
<circle cx="755.5" cy="172.8" r="3.8" fill="url(#wring)"/><circle cx="755.5" cy="172.8" r="2.4" fill="#262626"/>
<circle cx="755.5" cy="185.3" r="3.8" fill="url(#wring)"/><circle cx="755.5" cy="185.3" r="2.4" fill="#262626"/>
<circle cx="755.5" cy="197.8" r="3.8" fill="url(#wring)"/><circle cx="755.5" cy="197.8" r="2.4" fill="#262626"/>
<circle cx="755.5" cy="235.5" r="5.8" fill="url(#halo)"/><circle cx="755.5" cy="235.5" r="2.3" fill="#1a5a1f"/>
<circle cx="755.5" cy="248" r="5.8" fill="url(#halo)"/><circle cx="755.5" cy="248" r="2.3" fill="#1a5a1f"/>
<circle cx="755.5" cy="260.5" r="5.8" fill="url(#halo)"/><circle cx="755.5" cy="260.5" r="2.3" fill="#1a5a1f"/>
<circle cx="755.5" cy="273" r="5.8" fill="url(#halo)"/><circle cx="755.5" cy="273" r="2.3" fill="#1a5a1f"/>
<circle cx="755.5" cy="285.5" r="5.8" fill="url(#halo)"/><circle cx="755.5" cy="285.5" r="2.3" fill="#1a5a1f"/>
<circle cx="768.0" cy="147.8" r="3.8" fill="url(#wring)"/><circle cx="768.0" cy="147.8" r="2.4" fill="#262626"/>
<circle cx="768.0" cy="160.3" r="3.8" fill="url(#wring)"/><circle cx="768.0" cy="160.3" r="2.4" fill="#262626"/>
<circle cx="768.0" cy="172.8" r="3.8" fill="url(#wring)"/><circle cx="768.0" cy="172.8" r="2.4" fill="#262626"/>
<circle cx="768.0" cy="185.3" r="3.8" fill="url(#wring)"/><circle cx="768.0" cy="185.3" r="2.4" fill="#262626"/>
<circle cx="768.0" cy="197.8" r="3.8" fill="url(#wring)"/><circle cx="768.0" cy="197.8" r="2.4" fill="#262626"/>
<circle cx="768.0" cy="235.5" r="5.8" fill="url(#halo)"/><circle cx="768.0" cy="235.5" r="2.3" fill="#1a5a1f"/>
<circle cx="768.0" cy="248" r="5.8" fill="url(#halo)"/><circle cx="768.0" cy="248" r="2.3" fill="#1a5a1f"/>
<circle cx="768.0" cy="260.5" r="5.8" fill="url(#halo)"/><circle cx="768.0" cy="260.5" r="2.3" fill="#1a5a1f"/>
<circle cx="768.0" cy="273" r="5.8" fill="url(#halo)"/><circle cx="768.0" cy="273" r="2.3" fill="#1a5a1f"/>
<circle cx="768.0" cy="285.5" r="5.8" fill="url(#halo)"/><circle cx="768.0" cy="285.5" r="2.3" fill="#1a5a1f"/>
<circle cx="780.5" cy="147.8" r="3.8" fill="url(#wring)"/><circle cx="780.5" cy="147.8" r="2.4" fill="#262626"/>
<circle cx="780.5" cy="160.3" r="3.8" fill="url(#wring)"/><circle cx="780.5" cy="160.3" r="2.4" fill="#262626"/>
<circle cx="780.5" cy="172.8" r="3.8" fill="url(#wring)"/><circle cx="780.5" cy="172.8" r="2.4" fill="#262626"/>
<circle cx="780.5" cy="185.3" r="3.8" fill="url(#wring)"/><circle cx="780.5" cy="185.3" r="2.4" fill="#262626"/>
<circle cx="780.5" cy="197.8" r="3.8" fill="url(#wring)"/><circle cx="780.5" cy="197.8" r="2.4" fill="#262626"/>
<circle cx="780.5" cy="235.5" r="5.8" fill="url(#halo)"/><circle cx="780.5" cy="235.5" r="2.3" fill="#1a5a1f"/>
<circle cx="780.5" cy="248" r="5.8" fill="url(#halo)"/><circle cx="780.5" cy="248" r="2.3" fill="#1a5a1f"/>
<circle cx="780.5" cy="260.5" r="5.8" fill="url(#halo)"/><circle cx="780.5" cy="260.5" r="2.3" fill="#1a5a1f"/>
<circle cx="780.5" cy="273" r="5.8" fill="url(#halo)"/><circle cx="780.5" cy="273" r="2.3" fill="#1a5a1f"/>
<circle cx="780.5" cy="285.5" r="5.8" fill="url(#halo)"/><circle cx="780.5" cy="285.5" r="2.3" fill="#1a5a1f"/>
<circle cx="793.0" cy="147.8" r="3.8" fill="url(#wring)"/><circle cx="793.0" cy="147.8" r="2.4" fill="#262626"/>
<circle cx="793.0" cy="160.3" r="3.8" fill="url(#wring)"/><circle cx="793.0" cy="160.3" r="2.4" fill="#262626"/>
<circle cx="793.0" cy="172.8" r="3.8" fill="url(#wring)"/><circle cx="793.0" cy="172.8" r="2.4" fill="#262626"/>
<circle cx="793.0" cy="185.3" r="3.8" fill="url(#wring)"/><circle cx="793.0" cy="185.3" r="2.4" fill="#262626"/>
<circle cx="793.0" cy="197.8" r="3.8" fill="url(#wring)"/><circle cx="793.0" cy="197.8" r="2.4" fill="#262626"/>
<circle cx="793.0" cy="235.5" r="5.8" fill="url(#halo)"/><circle cx="793.0" cy="235.5" r="2.3" fill="#1a5a1f"/>
<circle cx="793.0" cy="248" r="5.8" fill="url(#halo)"/><circle cx="793.0" cy="248" r="2.3" fill="#1a5a1f"/>
<circle cx="793.0" cy="260.5" r="5.8" fill="url(#halo)"/><circle cx="793.0" cy="260.5" r="2.3" fill="#1a5a1f"/>
<circle cx="793.0" cy="273" r="5.8" fill="url(#halo)"/><circle cx="793.0" cy="273" r="2.3" fill="#1a5a1f"/>
<circle cx="793.0" cy="285.5" r="5.8" fill="url(#halo)"/><circle cx="793.0" cy="285.5" r="2.3" fill="#1a5a1f"/>
<circle cx="805.5" cy="147.8" r="3.8" fill="url(#wring)"/><circle cx="805.5" cy="147.8" r="2.4" fill="#262626"/>
<circle cx="805.5" cy="160.3" r="3.8" fill="url(#wring)"/><circle cx="805.5" cy="160.3" r="2.4" fill="#262626"/>
<circle cx="805.5" cy="172.8" r="3.8" fill="url(#wring)"/><circle cx="805.5" cy="172.8" r="2.4" fill="#262626"/>
<circle cx="805.5" cy="185.3" r="3.8" fill="url(#wring)"/><circle cx="805.5" cy="185.3" r="2.4" fill="#262626"/>
<circle cx="805.5" cy="197.8" r="3.8" fill="url(#wring)"/><circle cx="805.5" cy="197.8" r="2.4" fill="#262626"/>
<circle cx="805.5" cy="235.5" r="3.8" fill="url(#wring)"/><circle cx="805.5" cy="235.5" r="2.4" fill="#262626"/>
<circle cx="805.5" cy="248" r="3.8" fill="url(#wring)"/><circle cx="805.5" cy="248" r="2.4" fill="#262626"/>
<circle cx="805.5" cy="260.5" r="3.8" fill="url(#wring)"/><circle cx="805.5" cy="260.5" r="2.4" fill="#262626"/>
<circle cx="805.5" cy="273" r="3.8" fill="url(#wring)"/><circle cx="805.5" cy="273" r="2.4" fill="#262626"/>
<circle cx="805.5" cy="285.5" r="3.8" fill="url(#wring)"/><circle cx="805.5" cy="285.5" r="2.4" fill="#262626"/>
<circle cx="55.5" cy="97.5" r="5.8" fill="url(#halo)"/><circle cx="55.5" cy="97.5" r="2.3" fill="#1a5a1f"/>
<circle cx="55.5" cy="110" r="5.8" fill="url(#halo)"/><circle cx="55.5" cy="110" r="2.3" fill="#1a5a1f"/>
<circle cx="55.5" cy="322.5" r="5.8" fill="url(#halo)"/><circle cx="55.5" cy="322.5" r="2.3" fill="#1a5a1f"/>
<circle cx="55.5" cy="335" r="5.8" fill="url(#halo)"/><circle cx="55.5" cy="335" r="2.3" fill="#1a5a1f"/>
<circle cx="68.0" cy="97.5" r="5.8" fill="url(#halo)"/><circle cx="68.0" cy="97.5" r="2.3" fill="#1a5a1f"/>
<circle cx="68.0" cy="110" r="5.8" fill="url(#halo)"/><circle cx="68.0" cy="110" r="2.3" fill="#1a5a1f"/>
<circle cx="68.0" cy="322.5" r="5.8" fill="url(#halo)"/><circle cx="68.0" cy="322.5" r="2.3" fill="#1a5a1f"/>
<circle cx="68.0" cy="335" r="5.8" fill="url(#halo)"/><circle cx="68.0" cy="335" r="2.3" fill="#1a5a1f"/>
<circle cx="80.5" cy="97.5" r="5.8" fill="url(#halo)"/><circle cx="80.5" cy="97.5" r="2.3" fill="#1a5a1f"/>
<circle cx="80.5" cy="110" r="5.8" fill="url(#halo)"/><circle cx="80.5" cy="110" r="2.3" fill="#1a5a1f"/>
<circle cx="80.5" cy="322.5" r="5.8" fill="url(#halo)"/><circle cx="80.5" cy="322.5" r="2.3" fill="#1a5a1f"/>
<circle cx="80.5" cy="335" r="5.8" fill="url(#halo)"/><circle cx="80.5" cy="335" r="2.3" fill="#1a5a1f"/>
<circle cx="93.0" cy="97.5" r="5.8" fill="url(#halo)"/><circle cx="93.0" cy="97.5" r="2.3" fill="#1a5a1f"/>
<circle cx="93.0" cy="110" r="5.8" fill="url(#halo)"/><circle cx="93.0" cy="110" r="2.3" fill="#1a5a1f"/>
<circle cx="93.0" cy="322.5" r="5.8" fill="url(#halo)"/><circle cx="93.0" cy="322.5" r="2.3" fill="#1a5a1f"/>
<circle cx="93.0" cy="335" r="5.8" fill="url(#halo)"/><circle cx="93.0" cy="335" r="2.3" fill="#1a5a1f"/>
<circle cx="105.5" cy="97.5" r="5.8" fill="url(#halo)"/><circle cx="105.5" cy="97.5" r="2.3" fill="#1a5a1f"/>
<circle cx="105.5" cy="110" r="5.8" fill="url(#halo)"/><circle cx="105.5" cy="110" r="2.3" fill="#1a5a1f"/>
<circle cx="105.5" cy="322.5" r="5.8" fill="url(#halo)"/><circle cx="105.5" cy="322.5" r="2.3" fill="#1a5a1f"/>
<circle cx="105.5" cy="335" r="5.8" fill="url(#halo)"/><circle cx="105.5" cy="335" r="2.3" fill="#1a5a1f"/>
<circle cx="130.5" cy="97.5" r="5.8" fill="url(#halo)"/><circle cx="130.5" cy="97.5" r="2.3" fill="#1a5a1f"/>
<circle cx="130.5" cy="110" r="5.8" fill="url(#halo)"/><circle cx="130.5" cy="110" r="2.3" fill="#1a5a1f"/>
<circle cx="130.5" cy="322.5" r="5.8" fill="url(#halo)"/><circle cx="130.5" cy="322.5" r="2.3" fill="#1a5a1f"/>
<circle cx="130.5" cy="335" r="5.8" fill="url(#halo)"/><circle cx="130.5" cy="335" r="2.3" fill="#1a5a1f"/>
<circle cx="143.0" cy="97.5" r="5.8" fill="url(#halo)"/><circle cx="143.0" cy="97.5" r="2.3" fill="#1a5a1f"/>
<circle cx="143.0" cy="110" r="5.8" fill="url(#halo)"/><circle cx="143.0" cy="110" r="2.3" fill="#1a5a1f"/>
<circle cx="143.0" cy="322.5" r="5.8" fill="url(#halo)"/><circle cx="143.0" cy="322.5" r="2.3" fill="#1a5a1f"/>
<circle cx="143.0" cy="335" r="5.8" fill="url(#halo)"/><circle cx="143.0" cy="335" r="2.3" fill="#1a5a1f"/>
<circle cx="155.5" cy="97.5" r="5.8" fill="url(#halo)"/><circle cx="155.5" cy="97.5" r="2.3" fill="#1a5a1f"/>
<circle cx="155.5" cy="110" r="5.8" fill="url(#halo)"/><circle cx="155.5" cy="110" r="2.3" fill="#1a5a1f"/>
<circle cx="155.5" cy="322.5" r="5.8" fill="url(#halo)"/><circle cx="155.5" cy="322.5" r="2.3" fill="#1a5a1f"/>
<circle cx="155.5" cy="335" r="5.8" fill="url(#halo)"/><circle cx="155.5" cy="335" r="2.3" fill="#1a5a1f"/>
<circle cx="168.0" cy="97.5" r="5.8" fill="url(#halo)"/><circle cx="168.0" cy="97.5" r="2.3" fill="#1a5a1f"/>
<circle cx="168.0" cy="110" r="5.8" fill="url(#halo)"/><circle cx="168.0" cy="110" r="2.3" fill="#1a5a1f"/>
<circle cx="168.0" cy="322.5" r="5.8" fill="url(#halo)"/><circle cx="168.0" cy="322.5" r="2.3" fill="#1a5a1f"/>
<circle cx="168.0" cy="335" r="5.8" fill="url(#halo)"/><circle cx="168.0" cy="335" r="2.3" fill="#1a5a1f"/>
<circle cx="180.5" cy="97.5" r="5.8" fill="url(#halo)"/><circle cx="180.5" cy="97.5" r="2.3" fill="#1a5a1f"/>
<circle cx="180.5" cy="110" r="5.8" fill="url(#halo)"/><circle cx="180.5" cy="110" r="2.3" fill="#1a5a1f"/>
<circle cx="180.5" cy="322.5" r="5.8" fill="url(#halo)"/><circle cx="180.5" cy="322.5" r="2.3" fill="#1a5a1f"/>
<circle cx="180.5" cy="335" r="5.8" fill="url(#halo)"/><circle cx="180.5" cy="335" r="2.3" fill="#1a5a1f"/>
<circle cx="205.5" cy="97.5" r="5.8" fill="url(#halo)"/><circle cx="205.5" cy="97.5" r="2.3" fill="#1a5a1f"/>
<circle cx="205.5" cy="110" r="5.8" fill="url(#halo)"/><circle cx="205.5" cy="110" r="2.3" fill="#1a5a1f"/>
<circle cx="205.5" cy="322.5" r="5.8" fill="url(#halo)"/><circle cx="205.5" cy="322.5" r="2.3" fill="#1a5a1f"/>
<circle cx="205.5" cy="335" r="5.8" fill="url(#halo)"/><circle cx="205.5" cy="335" r="2.3" fill="#1a5a1f"/>
<circle cx="218.0" cy="97.5" r="5.8" fill="url(#halo)"/><circle cx="218.0" cy="97.5" r="2.3" fill="#1a5a1f"/>
<circle cx="218.0" cy="110" r="5.8" fill="url(#halo)"/><circle cx="218.0" cy="110" r="2.3" fill="#1a5a1f"/>
<circle cx="218.0" cy="322.5" r="5.8" fill="url(#halo)"/><circle cx="218.0" cy="322.5" r="2.3" fill="#1a5a1f"/>
<circle cx="218.0" cy="335" r="5.8" fill="url(#halo)"/><circle cx="218.0" cy="335" r="2.3" fill="#1a5a1f"/>
<circle cx="230.5" cy="97.5" r="5.8" fill="url(#halo)"/><circle cx="230.5" cy="97.5" r="2.3" fill="#1a5a1f"/>
<circle cx="230.5" cy="110" r="5.8" fill="url(#halo)"/><circle cx="230.5" cy="110" r="2.3" fill="#1a5a1f"/>
<circle cx="230.5" cy="322.5" r="5.8" fill="url(#halo)"/><circle cx="230.5" cy="322.5" r="2.3" fill="#1a5a1f"/>
<circle cx="230.5" cy="335" r="5.8" fill="url(#halo)"/><circle cx="230.5" cy="335" r="2.3" fill="#1a5a1f"/>
<circle cx="243.0" cy="97.5" r="5.8" fill="url(#halo)"/><circle cx="243.0" cy="97.5" r="2.3" fill="#1a5a1f"/>
<circle cx="243.0" cy="110" r="5.8" fill="url(#halo)"/><circle cx="243.0" cy="110" r="2.3" fill="#1a5a1f"/>
<circle cx="243.0" cy="322.5" r="5.8" fill="url(#halo)"/><circle cx="243.0" cy="322.5" r="2.3" fill="#1a5a1f"/>
<circle cx="243.0" cy="335" r="5.8" fill="url(#halo)"/><circle cx="243.0" cy="335" r="2.3" fill="#1a5a1f"/>
<circle cx="255.5" cy="97.5" r="5.8" fill="url(#halo)"/><circle cx="255.5" cy="97.5" r="2.3" fill="#1a5a1f"/>
<circle cx="255.5" cy="110" r="5.8" fill="url(#halo)"/><circle cx="255.5" cy="110" r="2.3" fill="#1a5a1f"/>
<circle cx="255.5" cy="322.5" r="5.8" fill="url(#halo)"/><circle cx="255.5" cy="322.5" r="2.3" fill="#1a5a1f"/>
<circle cx="255.5" cy="335" r="5.8" fill="url(#halo)"/><circle cx="255.5" cy="335" r="2.3" fill="#1a5a1f"/>
<circle cx="280.5" cy="97.5" r="5.8" fill="url(#halo)"/><circle cx="280.5" cy="97.5" r="2.3" fill="#1a5a1f"/>
<circle cx="280.5" cy="110" r="5.8" fill="url(#halo)"/><circle cx="280.5" cy="110" r="2.3" fill="#1a5a1f"/>
<circle cx="280.5" cy="322.5" r="5.8" fill="url(#halo)"/><circle cx="280.5" cy="322.5" r="2.3" fill="#1a5a1f"/>
<circle cx="280.5" cy="335" r="5.8" fill="url(#halo)"/><circle cx="280.5" cy="335" r="2.3" fill="#1a5a1f"/>
<circle cx="293.0" cy="97.5" r="5.8" fill="url(#halo)"/><circle cx="293.0" cy="97.5" r="2.3" fill="#1a5a1f"/>
<circle cx="293.0" cy="110" r="5.8" fill="url(#halo)"/><circle cx="293.0" cy="110" r="2.3" fill="#1a5a1f"/>
<circle cx="293.0" cy="322.5" r="5.8" fill="url(#halo)"/><circle cx="293.0" cy="322.5" r="2.3" fill="#1a5a1f"/>
<circle cx="293.0" cy="335" r="5.8" fill="url(#halo)"/><circle cx="293.0" cy="335" r="2.3" fill="#1a5a1f"/>
<circle cx="305.5" cy="97.5" r="5.8" fill="url(#halo)"/><circle cx="305.5" cy="97.5" r="2.3" fill="#1a5a1f"/>
<circle cx="305.5" cy="110" r="5.8" fill="url(#halo)"/><circle cx="305.5" cy="110" r="2.3" fill="#1a5a1f"/>
<circle cx="305.5" cy="322.5" r="5.8" fill="url(#halo)"/><circle cx="305.5" cy="322.5" r="2.3" fill="#1a5a1f"/>
<circle cx="305.5" cy="335" r="5.8" fill="url(#halo)"/><circle cx="305.5" cy="335" r="2.3" fill="#1a5a1f"/>
<circle cx="318.0" cy="97.5" r="5.8" fill="url(#halo)"/><circle cx="318.0" cy="97.5" r="2.3" fill="#1a5a1f"/>
<circle cx="318.0" cy="110" r="5.8" fill="url(#halo)"/><circle cx="318.0" cy="110" r="2.3" fill="#1a5a1f"/>
<circle cx="318.0" cy="322.5" r="5.8" fill="url(#halo)"/><circle cx="318.0" cy="322.5" r="2.3" fill="#1a5a1f"/>
<circle cx="318.0" cy="335" r="5.8" fill="url(#halo)"/><circle cx="318.0" cy="335" r="2.3" fill="#1a5a1f"/>
<circle cx="330.5" cy="97.5" r="5.8" fill="url(#halo)"/><circle cx="330.5" cy="97.5" r="2.3" fill="#1a5a1f"/>
<circle cx="330.5" cy="110" r="5.8" fill="url(#halo)"/><circle cx="330.5" cy="110" r="2.3" fill="#1a5a1f"/>
<circle cx="330.5" cy="322.5" r="5.8" fill="url(#halo)"/><circle cx="330.5" cy="322.5" r="2.3" fill="#1a5a1f"/>
<circle cx="330.5" cy="335" r="5.8" fill="url(#halo)"/><circle cx="330.5" cy="335" r="2.3" fill="#1a5a1f"/>
<circle cx="355.5" cy="97.5" r="5.8" fill="url(#halo)"/><circle cx="355.5" cy="97.5" r="2.3" fill="#1a5a1f"/>
<circle cx="355.5" cy="110" r="5.8" fill="url(#halo)"/><circle cx="355.5" cy="110" r="2.3" fill="#1a5a1f"/>
<circle cx="355.5" cy="322.5" r="5.8" fill="url(#halo)"/><circle cx="355.5" cy="322.5" r="2.3" fill="#1a5a1f"/>
<circle cx="355.5" cy="335" r="5.8" fill="url(#halo)"/><circle cx="355.5" cy="335" r="2.3" fill="#1a5a1f"/>
<circle cx="368.0" cy="97.5" r="5.8" fill="url(#halo)"/><circle cx="368.0" cy="97.5" r="2.3" fill="#1a5a1f"/>
<circle cx="368.0" cy="110" r="5.8" fill="url(#halo)"/><circle cx="368.0" cy="110" r="2.3" fill="#1a5a1f"/>
<circle cx="368.0" cy="322.5" r="5.8" fill="url(#halo)"/><circle cx="368.0" cy="322.5" r="2.3" fill="#1a5a1f"/>
<circle cx="368.0" cy="335" r="5.8" fill="url(#halo)"/><circle cx="368.0" cy="335" r="2.3" fill="#1a5a1f"/>
<circle cx="380.5" cy="97.5" r="5.8" fill="url(#halo)"/><circle cx="380.5" cy="97.5" r="2.3" fill="#1a5a1f"/>
<circle cx="380.5" cy="110" r="5.8" fill="url(#halo)"/><circle cx="380.5" cy="110" r="2.3" fill="#1a5a1f"/>
<circle cx="380.5" cy="322.5" r="5.8" fill="url(#halo)"/><circle cx="380.5" cy="322.5" r="2.3" fill="#1a5a1f"/>
<circle cx="380.5" cy="335" r="5.8" fill="url(#halo)"/><circle cx="380.5" cy="335" r="2.3" fill="#1a5a1f"/>
<circle cx="393.0" cy="97.5" r="5.8" fill="url(#halo)"/><circle cx="393.0" cy="97.5" r="2.3" fill="#1a5a1f"/>
<circle cx="393.0" cy="110" r="5.8" fill="url(#halo)"/><circle cx="393.0" cy="110" r="2.3" fill="#1a5a1f"/>
<circle cx="393.0" cy="322.5" r="5.8" fill="url(#halo)"/><circle cx="393.0" cy="322.5" r="2.3" fill="#1a5a1f"/>
<circle cx="393.0" cy="335" r="5.8" fill="url(#halo)"/><circle cx="393.0" cy="335" r="2.3" fill="#1a5a1f"/>
<circle cx="405.5" cy="97.5" r="5.8" fill="url(#halo)"/><circle cx="405.5" cy="97.5" r="2.3" fill="#1a5a1f"/>
<circle cx="405.5" cy="110" r="5.8" fill="url(#halo)"/><circle cx="405.5" cy="110" r="2.3" fill="#1a5a1f"/>
<circle cx="405.5" cy="322.5" r="5.8" fill="url(#halo)"/><circle cx="405.5" cy="322.5" r="2.3" fill="#1a5a1f"/>
<circle cx="405.5" cy="335" r="5.8" fill="url(#halo)"/><circle cx="405.5" cy="335" r="2.3" fill="#1a5a1f"/>
<circle cx="430.5" cy="97.5" r="5.8" fill="url(#halo)"/><circle cx="430.5" cy="97.5" r="2.3" fill="#1a5a1f"/>
<circle cx="430.5" cy="110" r="5.8" fill="url(#halo)"/><circle cx="430.5" cy="110" r="2.3" fill="#1a5a1f"/>
<circle cx="430.5" cy="322.5" r="5.8" fill="url(#halo)"/><circle cx="430.5" cy="322.5" r="2.3" fill="#1a5a1f"/>
<circle cx="430.5" cy="335" r="5.8" fill="url(#halo)"/><circle cx="430.5" cy="335" r="2.3" fill="#1a5a1f"/>
<circle cx="443.0" cy="97.5" r="5.8" fill="url(#halo)"/><circle cx="443.0" cy="97.5" r="2.3" fill="#1a5a1f"/>
<circle cx="443.0" cy="110" r="5.8" fill="url(#halo)"/><circle cx="443.0" cy="110" r="2.3" fill="#1a5a1f"/>
<circle cx="443.0" cy="322.5" r="5.8" fill="url(#halo)"/><circle cx="443.0" cy="322.5" r="2.3" fill="#1a5a1f"/>
<circle cx="443.0" cy="335" r="5.8" fill="url(#halo)"/><circle cx="443.0" cy="335" r="2.3" fill="#1a5a1f"/>
<circle cx="455.5" cy="97.5" r="5.8" fill="url(#halo)"/><circle cx="455.5" cy="97.5" r="2.3" fill="#1a5a1f"/>
<circle cx="455.5" cy="110" r="5.8" fill="url(#halo)"/><circle cx="455.5" cy="110" r="2.3" fill="#1a5a1f"/>
<circle cx="455.5" cy="322.5" r="5.8" fill="url(#halo)"/><circle cx="455.5" cy="322.5" r="2.3" fill="#1a5a1f"/>
<circle cx="455.5" cy="335" r="5.8" fill="url(#halo)"/><circle cx="455.5" cy="335" r="2.3" fill="#1a5a1f"/>
<circle cx="468.0" cy="97.5" r="5.8" fill="url(#halo)"/><circle cx="468.0" cy="97.5" r="2.3" fill="#1a5a1f"/>
<circle cx="468.0" cy="110" r="5.8" fill="url(#halo)"/><circle cx="468.0" cy="110" r="2.3" fill="#1a5a1f"/>
<circle cx="468.0" cy="322.5" r="5.8" fill="url(#halo)"/><circle cx="468.0" cy="322.5" r="2.3" fill="#1a5a1f"/>
<circle cx="468.0" cy="335" r="5.8" fill="url(#halo)"/><circle cx="468.0" cy="335" r="2.3" fill="#1a5a1f"/>
<circle cx="480.5" cy="97.5" r="5.8" fill="url(#halo)"/><circle cx="480.5" cy="97.5" r="2.3" fill="#1a5a1f"/>
<circle cx="480.5" cy="110" r="5.8" fill="url(#halo)"/><circle cx="480.5" cy="110" r="2.3" fill="#1a5a1f"/>
<circle cx="480.5" cy="322.5" r="5.8" fill="url(#halo)"/><circle cx="480.5" cy="322.5" r="2.3" fill="#1a5a1f"/>
<circle cx="480.5" cy="335" r="5.8" fill="url(#halo)"/><circle cx="480.5" cy="335" r="2.3" fill="#1a5a1f"/>
<circle cx="505.5" cy="97.5" r="5.8" fill="url(#halo)"/><circle cx="505.5" cy="97.5" r="2.3" fill="#1a5a1f"/>
<circle cx="505.5" cy="110" r="5.8" fill="url(#halo)"/><circle cx="505.5" cy="110" r="2.3" fill="#1a5a1f"/>
<circle cx="505.5" cy="322.5" r="5.8" fill="url(#halo)"/><circle cx="505.5" cy="322.5" r="2.3" fill="#1a5a1f"/>
<circle cx="505.5" cy="335" r="5.8" fill="url(#halo)"/><circle cx="505.5" cy="335" r="2.3" fill="#1a5a1f"/>
<circle cx="518.0" cy="97.5" r="5.8" fill="url(#halo)"/><circle cx="518.0" cy="97.5" r="2.3" fill="#1a5a1f"/>
<circle cx="518.0" cy="110" r="5.8" fill="url(#halo)"/><circle cx="518.0" cy="110" r="2.3" fill="#1a5a1f"/>
<circle cx="518.0" cy="322.5" r="5.8" fill="url(#halo)"/><circle cx="518.0" cy="322.5" r="2.3" fill="#1a5a1f"/>
<circle cx="518.0" cy="335" r="5.8" fill="url(#halo)"/><circle cx="518.0" cy="335" r="2.3" fill="#1a5a1f"/>
<circle cx="530.5" cy="97.5" r="5.8" fill="url(#halo)"/><circle cx="530.5" cy="97.5" r="2.3" fill="#1a5a1f"/>
<circle cx="530.5" cy="110" r="5.8" fill="url(#halo)"/><circle cx="530.5" cy="110" r="2.3" fill="#1a5a1f"/>
<circle cx="530.5" cy="322.5" r="5.8" fill="url(#halo)"/><circle cx="530.5" cy="322.5" r="2.3" fill="#1a5a1f"/>
<circle cx="530.5" cy="335" r="5.8" fill="url(#halo)"/><circle cx="530.5" cy="335" r="2.3" fill="#1a5a1f"/>
<circle cx="543.0" cy="97.5" r="5.8" fill="url(#halo)"/><circle cx="543.0" cy="97.5" r="2.3" fill="#1a5a1f"/>
<circle cx="543.0" cy="110" r="5.8" fill="url(#halo)"/><circle cx="543.0" cy="110" r="2.3" fill="#1a5a1f"/>
<circle cx="543.0" cy="322.5" r="5.8" fill="url(#halo)"/><circle cx="543.0" cy="322.5" r="2.3" fill="#1a5a1f"/>
<circle cx="543.0" cy="335" r="5.8" fill="url(#halo)"/><circle cx="543.0" cy="335" r="2.3" fill="#1a5a1f"/>
<circle cx="555.5" cy="97.5" r="5.8" fill="url(#halo)"/><circle cx="555.5" cy="97.5" r="2.3" fill="#1a5a1f"/>
<circle cx="555.5" cy="110" r="5.8" fill="url(#halo)"/><circle cx="555.5" cy="110" r="2.3" fill="#1a5a1f"/>
<circle cx="555.5" cy="322.5" r="5.8" fill="url(#halo)"/><circle cx="555.5" cy="322.5" r="2.3" fill="#1a5a1f"/>
<circle cx="555.5" cy="335" r="5.8" fill="url(#halo)"/><circle cx="555.5" cy="335" r="2.3" fill="#1a5a1f"/>
<circle cx="580.5" cy="97.5" r="5.8" fill="url(#halo)"/><circle cx="580.5" cy="97.5" r="2.3" fill="#1a5a1f"/>
<circle cx="580.5" cy="110" r="5.8" fill="url(#halo)"/><circle cx="580.5" cy="110" r="2.3" fill="#1a5a1f"/>
<circle cx="580.5" cy="322.5" r="5.8" fill="url(#halo)"/><circle cx="580.5" cy="322.5" r="2.3" fill="#1a5a1f"/>
<circle cx="580.5" cy="335" r="5.8" fill="url(#halo)"/><circle cx="580.5" cy="335" r="2.3" fill="#1a5a1f"/>
<circle cx="593.0" cy="97.5" r="5.8" fill="url(#halo)"/><circle cx="593.0" cy="97.5" r="2.3" fill="#1a5a1f"/>
<circle cx="593.0" cy="110" r="5.8" fill="url(#halo)"/><circle cx="593.0" cy="110" r="2.3" fill="#1a5a1f"/>
<circle cx="593.0" cy="322.5" r="5.8" fill="url(#halo)"/><circle cx="593.0" cy="322.5" r="2.3" fill="#1a5a1f"/>
<circle cx="593.0" cy="335" r="5.8" fill="url(#halo)"/><circle cx="593.0" cy="335" r="2.3" fill="#1a5a1f"/>
<circle cx="605.5" cy="97.5" r="5.8" fill="url(#halo)"/><circle cx="605.5" cy="97.5" r="2.3" fill="#1a5a1f"/>
<circle cx="605.5" cy="110" r="5.8" fill="url(#halo)"/><circle cx="605.5" cy="110" r="2.3" fill="#1a5a1f"/>
<circle cx="605.5" cy="322.5" r="5.8" fill="url(#halo)"/><circle cx="605.5" cy="322.5" r="2.3" fill="#1a5a1f"/>
<circle cx="605.5" cy="335" r="5.8" fill="url(#halo)"/><circle cx="605.5" cy="335" r="2.3" fill="#1a5a1f"/>
<circle cx="618.0" cy="97.5" r="5.8" fill="url(#halo)"/><circle cx="618.0" cy="97.5" r="2.3" fill="#1a5a1f"/>
<circle cx="618.0" cy="110" r="5.8" fill="url(#halo)"/><circle cx="618.0" cy="110" r="2.3" fill="#1a5a1f"/>
<circle cx="618.0" cy="322.5" r="5.8" fill="url(#halo)"/><circle cx="618.0" cy="322.5" r="2.3" fill="#1a5a1f"/>
<circle cx="618.0" cy="335" r="5.8" fill="url(#halo)"/><circle cx="618.0" cy="335" r="2.3" fill="#1a5a1f"/>
<circle cx="630.5" cy="97.5" r="5.8" fill="url(#halo)"/><circle cx="630.5" cy="97.5" r="2.3" fill="#1a5a1f"/>
<circle cx="630.5" cy="110" r="5.8" fill="url(#halo)"/><circle cx="630.5" cy="110" r="2.3" fill="#1a5a1f"/>
<circle cx="630.5" cy="322.5" r="5.8" fill="url(#halo)"/><circle cx="630.5" cy="322.5" r="2.3" fill="#1a5a1f"/>
<circle cx="630.5" cy="335" r="5.8" fill="url(#halo)"/><circle cx="630.5" cy="335" r="2.3" fill="#1a5a1f"/>
<circle cx="655.5" cy="97.5" r="5.8" fill="url(#halo)"/><circle cx="655.5" cy="97.5" r="2.3" fill="#1a5a1f"/>
<circle cx="655.5" cy="110" r="5.8" fill="url(#halo)"/><circle cx="655.5" cy="110" r="2.3" fill="#1a5a1f"/>
<circle cx="655.5" cy="322.5" r="5.8" fill="url(#halo)"/><circle cx="655.5" cy="322.5" r="2.3" fill="#1a5a1f"/>
<circle cx="655.5" cy="335" r="5.8" fill="url(#halo)"/><circle cx="655.5" cy="335" r="2.3" fill="#1a5a1f"/>
<circle cx="668.0" cy="97.5" r="5.8" fill="url(#halo)"/><circle cx="668.0" cy="97.5" r="2.3" fill="#1a5a1f"/>
<circle cx="668.0" cy="110" r="5.8" fill="url(#halo)"/><circle cx="668.0" cy="110" r="2.3" fill="#1a5a1f"/>
<circle cx="668.0" cy="322.5" r="5.8" fill="url(#halo)"/><circle cx="668.0" cy="322.5" r="2.3" fill="#1a5a1f"/>
<circle cx="668.0" cy="335" r="5.8" fill="url(#halo)"/><circle cx="668.0" cy="335" r="2.3" fill="#1a5a1f"/>
<circle cx="680.5" cy="97.5" r="5.8" fill="url(#halo)"/><circle cx="680.5" cy="97.5" r="2.3" fill="#1a5a1f"/>
<circle cx="680.5" cy="110" r="5.8" fill="url(#halo)"/><circle cx="680.5" cy="110" r="2.3" fill="#1a5a1f"/>
<circle cx="680.5" cy="322.5" r="5.8" fill="url(#halo)"/><circle cx="680.5" cy="322.5" r="2.3" fill="#1a5a1f"/>
<circle cx="680.5" cy="335" r="5.8" fill="url(#halo)"/><circle cx="680.5" cy="335" r="2.3" fill="#1a5a1f"/>
<circle cx="693.0" cy="97.5" r="5.8" fill="url(#halo)"/><circle cx="693.0" cy="97.5" r="2.3" fill="#1a5a1f"/>
<circle cx="693.0" cy="110" r="5.8" fill="url(#halo)"/><circle cx="693.0" cy="110" r="2.3" fill="#1a5a1f"/>
<circle cx="693.0" cy="322.5" r="5.8" fill="url(#halo)"/><circle cx="693.0" cy="322.5" r="2.3" fill="#1a5a1f"/>
<circle cx="693.0" cy="335" r="5.8" fill="url(#halo)"/><circle cx="693.0" cy="335" r="2.3" fill="#1a5a1f"/>
<circle cx="705.5" cy="97.5" r="5.8" fill="url(#halo)"/><circle cx="705.5" cy="97.5" r="2.3" fill="#1a5a1f"/>
<circle cx="705.5" cy="110" r="5.8" fill="url(#halo)"/><circle cx="705.5" cy="110" r="2.3" fill="#1a5a1f"/>
<circle cx="705.5" cy="322.5" r="5.8" fill="url(#halo)"/><circle cx="705.5" cy="322.5" r="2.3" fill="#1a5a1f"/>
<circle cx="705.5" cy="335" r="5.8" fill="url(#halo)"/><circle cx="705.5" cy="335" r="2.3" fill="#1a5a1f"/>
<circle cx="730.5" cy="97.5" r="5.8" fill="url(#halo)"/><circle cx="730.5" cy="97.5" r="2.3" fill="#1a5a1f"/>
<circle cx="730.5" cy="110" r="5.8" fill="url(#halo)"/><circle cx="730.5" cy="110" r="2.3" fill="#1a5a1f"/>
<circle cx="730.5" cy="322.5" r="5.8" fill="url(#halo)"/><circle cx="730.5" cy="322.5" r="2.3" fill="#1a5a1f"/>
<circle cx="730.5" cy="335" r="5.8" fill="url(#halo)"/><circle cx="730.5" cy="335" r="2.3" fill="#1a5a1f"/>
<circle cx="743.0" cy="97.5" r="5.8" fill="url(#halo)"/><circle cx="743.0" cy="97.5" r="2.3" fill="#1a5a1f"/>
<circle cx="743.0" cy="110" r="5.8" fill="url(#halo)"/><circle cx="743.0" cy="110" r="2.3" fill="#1a5a1f"/>
<circle cx="743.0" cy="322.5" r="5.8" fill="url(#halo)"/><circle cx="743.0" cy="322.5" r="2.3" fill="#1a5a1f"/>
<circle cx="743.0" cy="335" r="5.8" fill="url(#halo)"/><circle cx="743.0" cy="335" r="2.3" fill="#1a5a1f"/>
<circle cx="755.5" cy="97.5" r="5.8" fill="url(#halo)"/><circle cx="755.5" cy="97.5" r="2.3" fill="#1a5a1f"/>
<circle cx="755.5" cy="110" r="5.8" fill="url(#halo)"/><circle cx="755.5" cy="110" r="2.3" fill="#1a5a1f"/>
<circle cx="755.5" cy="322.5" r="5.8" fill="url(#halo)"/><circle cx="755.5" cy="322.5" r="2.3" fill="#1a5a1f"/>
<circle cx="755.5" cy="335" r="5.8" fill="url(#halo)"/><circle cx="755.5" cy="335" r="2.3" fill="#1a5a1f"/>
<circle cx="768.0" cy="97.5" r="5.8" fill="url(#halo)"/><circle cx="768.0" cy="97.5" r="2.3" fill="#1a5a1f"/>
<circle cx="768.0" cy="110" r="5.8" fill="url(#halo)"/><circle cx="768.0" cy="110" r="2.3" fill="#1a5a1f"/>
<circle cx="768.0" cy="322.5" r="5.8" fill="url(#halo)"/><circle cx="768.0" cy="322.5" r="2.3" fill="#1a5a1f"/>
<circle cx="768.0" cy="335" r="5.8" fill="url(#halo)"/><circle cx="768.0" cy="335" r="2.3" fill="#1a5a1f"/>
<circle cx="780.5" cy="97.5" r="5.8" fill="url(#halo)"/><circle cx="780.5" cy="97.5" r="2.3" fill="#1a5a1f"/>
<circle cx="780.5" cy="110" r="5.8" fill="url(#halo)"/><circle cx="780.5" cy="110" r="2.3" fill="#1a5a1f"/>
<circle cx="780.5" cy="322.5" r="5.8" fill="url(#halo)"/><circle cx="780.5" cy="322.5" r="2.3" fill="#1a5a1f"/>
<circle cx="780.5" cy="335" r="5.8" fill="url(#halo)"/><circle cx="780.5" cy="335" r="2.3" fill="#1a5a1f"/>
<text x="30.5" y="136.0" transform="rotate(-90 30.5 133.5)" font-size="7.5" fill="#bdbdbd" text-anchor="middle">1</text>
<text x="30.5" y="302.8" transform="rotate(-90 30.5 300.3)" font-size="7.5" fill="#bdbdbd" text-anchor="middle">1</text>
<text x="80.5" y="136.0" transform="rotate(-90 80.5 133.5)" font-size="7.5" fill="#bdbdbd" text-anchor="middle">5</text>
<text x="80.5" y="302.8" transform="rotate(-90 80.5 300.3)" font-size="7.5" fill="#bdbdbd" text-anchor="middle">5</text>
<text x="143.0" y="136.0" transform="rotate(-90 143.0 133.5)" font-size="7.5" fill="#bdbdbd" text-anchor="middle">10</text>
<text x="143.0" y="302.8" transform="rotate(-90 143.0 300.3)" font-size="7.5" fill="#bdbdbd" text-anchor="middle">10</text>
<text x="205.5" y="136.0" transform="rotate(-90 205.5 133.5)" font-size="7.5" fill="#bdbdbd" text-anchor="middle">15</text>
<text x="205.5" y="302.8" transform="rotate(-90 205.5 300.3)" font-size="7.5" fill="#bdbdbd" text-anchor="middle">15</text>
<text x="268.0" y="136.0" transform="rotate(-90 268.0 133.5)" font-size="7.5" fill="#bdbdbd" text-anchor="middle">20</text>
<text x="268.0" y="302.8" transform="rotate(-90 268.0 300.3)" font-size="7.5" fill="#bdbdbd" text-anchor="middle">20</text>
<text x="330.5" y="136.0" transform="rotate(-90 330.5 133.5)" font-size="7.5" fill="#bdbdbd" text-anchor="middle">25</text>
<text x="330.5" y="302.8" transform="rotate(-90 330.5 300.3)" font-size="7.5" fill="#bdbdbd" text-anchor="middle">25</text>
<text x="393.0" y="136.0" transform="rotate(-90 393.0 133.5)" font-size="7.5" fill="#bdbdbd" text-anchor="middle">30</text>
<text x="393.0" y="302.8" transform="rotate(-90 393.0 300.3)" font-size="7.5" fill="#bdbdbd" text-anchor="middle">30</text>
<text x="455.5" y="136.0" transform="rotate(-90 455.5 133.5)" font-size="7.5" fill="#bdbdbd" text-anchor="middle">35</text>
<text x="455.5" y="302.8" transform="rotate(-90 455.5 300.3)" font-size="7.5" fill="#bdbdbd" text-anchor="middle">35</text>
<text x="518.0" y="136.0" transform="rotate(-90 518.0 133.5)" font-size="7.5" fill="#bdbdbd" text-anchor="middle">40</text>
<text x="518.0" y="302.8" transform="rotate(-90 518.0 300.3)" font-size="7.5" fill="#bdbdbd" text-anchor="middle">40</text>
<text x="580.5" y="136.0" transform="rotate(-90 580.5 133.5)" font-size="7.5" fill="#bdbdbd" text-anchor="middle">45</text>
<text x="580.5" y="302.8" transform="rotate(-90 580.5 300.3)" font-size="7.5" fill="#bdbdbd" text-anchor="middle">45</text>
<text x="643.0" y="136.0" transform="rotate(-90 643.0 133.5)" font-size="7.5" fill="#bdbdbd" text-anchor="middle">50</text>
<text x="643.0" y="302.8" transform="rotate(-90 643.0 300.3)" font-size="7.5" fill="#bdbdbd" text-anchor="middle">50</text>
<text x="705.5" y="136.0" transform="rotate(-90 705.5 133.5)" font-size="7.5" fill="#bdbdbd" text-anchor="middle">55</text>
<text x="705.5" y="302.8" transform="rotate(-90 705.5 300.3)" font-size="7.5" fill="#bdbdbd" text-anchor="middle">55</text>
<text x="768.0" y="136.0" transform="rotate(-90 768.0 133.5)" font-size="7.5" fill="#bdbdbd" text-anchor="middle">60</text>
<text x="768.0" y="302.8" transform="rotate(-90 768.0 300.3)" font-size="7.5" fill="#bdbdbd" text-anchor="middle">60</text>
<text x="18" y="150.0" transform="rotate(-90 18 147.8)" font-size="6.5" fill="#bdbdbd" text-anchor="middle">J</text>
<text x="818" y="150.0" transform="rotate(-90 818 147.8)" font-size="6.5" fill="#bdbdbd" text-anchor="middle">J</text>
<text x="18" y="162.5" transform="rotate(-90 18 160.3)" font-size="6.5" fill="#bdbdbd" text-anchor="middle">I</text>
<text x="818" y="162.5" transform="rotate(-90 818 160.3)" font-size="6.5" fill="#bdbdbd" text-anchor="middle">I</text>
<text x="18" y="175.0" transform="rotate(-90 18 172.8)" font-size="6.5" fill="#bdbdbd" text-anchor="middle">H</text>
<text x="818" y="175.0" transform="rotate(-90 818 172.8)" font-size="6.5" fill="#bdbdbd" text-anchor="middle">H</text>
<text x="18" y="187.5" transform="rotate(-90 18 185.3)" font-size="6.5" fill="#bdbdbd" text-anchor="middle">G</text>
<text x="818" y="187.5" transform="rotate(-90 818 185.3)" font-size="6.5" fill="#bdbdbd" text-anchor="middle">G</text>
<text x="18" y="200.0" transform="rotate(-90 18 197.8)" font-size="6.5" fill="#bdbdbd" text-anchor="middle">F</text>
<text x="818" y="200.0" transform="rotate(-90 818 197.8)" font-size="6.5" fill="#bdbdbd" text-anchor="middle">F</text>
<text x="18" y="237.7" transform="rotate(-90 18 235.5)" font-size="6.5" fill="#bdbdbd" text-anchor="middle">E</text>
<text x="818" y="237.7" transform="rotate(-90 818 235.5)" font-size="6.5" fill="#bdbdbd" text-anchor="middle">E</text>
<text x="18" y="250.2" transform="rotate(-90 18 248)" font-size="6.5" fill="#bdbdbd" text-anchor="middle">D</text>
<text x="818" y="250.2" transform="rotate(-90 818 248)" font-size="6.5" fill="#bdbdbd" text-anchor="middle">D</text>
<text x="18" y="262.7" transform="rotate(-90 18 260.5)" font-size="6.5" fill="#bdbdbd" text-anchor="middle">C</text>
<text x="818" y="262.7" transform="rotate(-90 818 260.5)" font-size="6.5" fill="#bdbdbd" text-anchor="middle">C</text>
<text x="18" y="275.2" transform="rotate(-90 18 273)" font-size="6.5" fill="#bdbdbd" text-anchor="middle">B</text>
<text x="818" y="275.2" transform="rotate(-90 818 273)" font-size="6.5" fill="#bdbdbd" text-anchor="middle">B</text>
<text x="18" y="287.7" transform="rotate(-90 18 285.5)" font-size="6.5" fill="#bdbdbd" text-anchor="middle">A</text>
<text x="818" y="287.7" transform="rotate(-90 818 285.5)" font-size="6.5" fill="#bdbdbd" text-anchor="middle">A</text>
<defs><linearGradient id="xtal" x1="0" y1="0" x2="0" y2="1"><stop offset="0" stop-color="#d8d8d8"/><stop offset="0.55" stop-color="#bdbdbd"/><stop offset="1" stop-color="#8f8f8f"/></linearGradient><linearGradient id="shaft" x1="0" y1="0" x2="1" y2="0"><stop offset="0" stop-color="#1e1e1e"/><stop offset="0.5" stop-color="#3a3a3a"/><stop offset="1" stop-color="#1a1a1a"/></linearGradient><linearGradient id="jack" x1="0" y1="0" x2="1" y2="0"><stop offset="0" stop-color="#111"/><stop offset="0.5" stop-color="#2c2c2c"/><stop offset="1" stop-color="#141414"/></linearGradient></defs>
<line x1="80.5" y1="178" x2="80.5" y2="186" stroke="#7cc47c" stroke-width="3"/>
<line x1="105.5" y1="178" x2="105.5" y2="186" stroke="#7cc47c" stroke-width="3"/>
<rect x="69.8" y="164.5" width="47.2" height="14.6" rx="7" fill="#8e8e8e"/>
<rect x="70.6" y="167" width="45.6" height="11" rx="5.5" fill="#adadad"/>
<rect x="71.5" y="163.6" width="43.8" height="8.2" rx="4.1" fill="#dedede"/>
<text x="93.5" y="170.2" font-size="7.4" font-weight="bold" font-style="italic" fill="#6c6c6c" text-anchor="middle">MHz</text>
<rect x="240.7" y="183.2" width="4.6" height="6" fill="#c78a80"/>
<rect x="240.7" y="256" width="4.6" height="6" fill="#c78a80"/>
<rect x="253.2" y="183.2" width="4.6" height="6" fill="#c78a80"/>
<rect x="253.2" y="256" width="4.6" height="6" fill="#c78a80"/>
<rect x="265.7" y="183.2" width="4.6" height="6" fill="#c78a80"/>
<rect x="265.7" y="256" width="4.6" height="6" fill="#c78a80"/>
<rect x="278.2" y="183.2" width="4.6" height="6" fill="#c78a80"/>
<rect x="278.2" y="256" width="4.6" height="6" fill="#c78a80"/>
<rect x="290.7" y="183.2" width="4.6" height="6" fill="#c78a80"/>
<rect x="290.7" y="256" width="4.6" height="6" fill="#c78a80"/>
<rect x="303.2" y="183.2" width="4.6" height="6" fill="#c78a80"/>
<rect x="303.2" y="256" width="4.6" height="6" fill="#c78a80"/>
<rect x="315.7" y="183.2" width="4.6" height="6" fill="#c78a80"/>
<rect x="315.7" y="256" width="4.6" height="6" fill="#c78a80"/>
<rect x="328.2" y="183.2" width="4.6" height="6" fill="#c78a80"/>
<rect x="328.2" y="256" width="4.6" height="6" fill="#c78a80"/>
<rect x="340.7" y="183.2" width="4.6" height="6" fill="#c78a80"/>
<rect x="340.7" y="256" width="4.6" height="6" fill="#c78a80"/>
<rect x="353.2" y="183.2" width="4.6" height="6" fill="#c78a80"/>
<rect x="353.2" y="256" width="4.6" height="6" fill="#c78a80"/>
<rect x="365.7" y="183.2" width="4.6" height="6" fill="#c78a80"/>
<rect x="365.7" y="256" width="4.6" height="6" fill="#c78a80"/>
<rect x="378.2" y="183.2" width="4.6" height="6" fill="#c78a80"/>
<rect x="378.2" y="256" width="4.6" height="6" fill="#c78a80"/>
<rect x="390.7" y="183.2" width="4.6" height="6" fill="#c78a80"/>
<rect x="390.7" y="256" width="4.6" height="6" fill="#c78a80"/>
<rect x="403.2" y="183.2" width="4.6" height="6" fill="#c78a80"/>
<rect x="403.2" y="256" width="4.6" height="6" fill="#c78a80"/>
<rect x="415.7" y="183.2" width="4.6" height="6" fill="#c78a80"/>
<rect x="415.7" y="256" width="4.6" height="6" fill="#c78a80"/>
<rect x="428.2" y="183.2" width="4.6" height="6" fill="#c78a80"/>
<rect x="428.2" y="256" width="4.6" height="6" fill="#c78a80"/>
<rect x="440.7" y="183.2" width="4.6" height="6" fill="#c78a80"/>
<rect x="440.7" y="256" width="4.6" height="6" fill="#c78a80"/>
<rect x="453.2" y="183.2" width="4.6" height="6" fill="#c78a80"/>
<rect x="453.2" y="256" width="4.6" height="6" fill="#c78a80"/>
<rect x="465.7" y="183.2" width="4.6" height="6" fill="#c78a80"/>
<rect x="465.7" y="256" width="4.6" height="6" fill="#c78a80"/>
<rect x="478.2" y="183.2" width="4.6" height="6" fill="#c78a80"/>
<rect x="478.2" y="256" width="4.6" height="6" fill="#c78a80"/>
<rect x="237" y="188.5" width="249.6" height="68.5" fill="#2d2d2d"/>
<circle cx="245" cy="249.5" r="1.6" fill="#1c1c1c"/>
<text x="245.5" y="223.2" font-family="Liberation Mono" style="font-family:'Liberation Mono',monospace" font-size="11" fill="#e0e0e0" textLength="49" lengthAdjust="spacingAndGlyphs">AT89S51</text>
<text x="302.8" y="224" font-size="15.5" fill="#0d0d0d" stroke="#0d0d0d" stroke-width="0.3" textLength="61.2" lengthAdjust="spacingAndGlyphs">AT89S52</text>
<line x1="30.3" y1="272" x2="30.3" y2="288" stroke="#8c8c8c" stroke-width="3.6"/>
<line x1="30.3" y1="254" x2="30.3" y2="272" stroke="#6faa6f" stroke-width="3.6"/>
<line x1="55.7" y1="272" x2="55.7" y2="288" stroke="#8c8c8c" stroke-width="3.6"/>
<line x1="55.7" y1="254" x2="55.7" y2="272" stroke="#6faa6f" stroke-width="3.6"/>
<path d="M29,292 Q28,284 34,284.5 Q39,283.2 43,282.6 Q47,283.2 52,284.5 Q58,284 57,292 Q57,306.5 43,306.5 Q29,306.5 29,292 Z" fill="#e0891f"/>
<path d="M37,305.2 Q43,308.5 49,305.2" fill="none" stroke="#3c2410" stroke-width="2"/>
<line x1="130.3" y1="272" x2="130.3" y2="288" stroke="#8c8c8c" stroke-width="3.6"/>
<line x1="130.3" y1="254" x2="130.3" y2="272" stroke="#6faa6f" stroke-width="3.6"/>
<line x1="155.7" y1="272" x2="155.7" y2="288" stroke="#8c8c8c" stroke-width="3.6"/>
<line x1="155.7" y1="254" x2="155.7" y2="272" stroke="#6faa6f" stroke-width="3.6"/>
<path d="M129,292 Q128,284 134,284.5 Q139,283.2 143,282.6 Q147,283.2 152,284.5 Q158,284 157,292 Q157,306.5 143,306.5 Q129,306.5 129,292 Z" fill="#e0891f"/>
<path d="M137,305.2 Q143,308.5 149,305.2" fill="none" stroke="#3c2410" stroke-width="2"/>
<rect x="48" y="28.2" width="52" height="53.4" fill="#2c8a3c"/>
<path d="M53,40 L53,70 L70,70 L70,80 M62,56 L58,60 M80.5,66 L80.5,80" fill="none" stroke="#8fcf8f" stroke-width="0.9" opacity="0.8"/>
<rect x="56.5" y="10" width="41.8" height="54.5" fill="url(#jack)"/>
<rect x="54.7" y="0" width="45.3" height="12.8" rx="1.5" fill="#151515"/>
<path d="M67.5,28 L77.5,31.5 L80,27 L88.5,36.5 L79,33.8 L76.5,38 Z" fill="#f1c01f"/>
<rect x="572.2" y="280" width="393.4" height="176.3" fill="#207d35"/>
<circle cx="583.5" cy="291" r="7.6" fill="#a9a27c"/><circle cx="583.5" cy="291" r="4.9" fill="#ffffff"/>
<circle cx="954.5" cy="291" r="7.6" fill="#a9a27c"/><circle cx="954.5" cy="291" r="4.9" fill="#ffffff"/>
<circle cx="583" cy="445.6" r="7.6" fill="#a9a27c"/><circle cx="583" cy="445.6" r="4.9" fill="#ffffff"/>
<circle cx="954" cy="445" r="7.6" fill="#a9a27c"/><circle cx="954" cy="445" r="4.9" fill="#ffffff"/>
<rect x="601.5" y="279.5" width="8" height="12" rx="4" fill="#b3aa80"/>
<rect x="614.0" y="279.5" width="8" height="12" rx="4" fill="#b3aa80"/>
<rect x="626.5" y="279.5" width="8" height="12" rx="4" fill="#b3aa80"/>
<rect x="639.0" y="279.5" width="8" height="12" rx="4" fill="#b3aa80"/>
<circle cx="643.0" cy="285.3" r="2.5" fill="#1a1a1a"/>
<rect x="651.5" y="279.5" width="8" height="12" rx="4" fill="#b3aa80"/>
<circle cx="655.5" cy="285.3" r="2.5" fill="#1a1a1a"/>
<rect x="664.0" y="279.5" width="8" height="12" rx="4" fill="#b3aa80"/>
<circle cx="668.0" cy="285.3" r="2.5" fill="#1a1a1a"/>
<rect x="676.5" y="279.5" width="8" height="12" rx="4" fill="#b3aa80"/>
<circle cx="680.5" cy="285.3" r="2.5" fill="#1a1a1a"/>
<rect x="689.0" y="279.5" width="8" height="12" rx="4" fill="#b3aa80"/>
<circle cx="693.0" cy="285.3" r="2.5" fill="#1a1a1a"/>
<rect x="701.5" y="279.5" width="8" height="12" rx="4" fill="#b3aa80"/>
<circle cx="705.5" cy="285.3" r="2.5" fill="#1a1a1a"/>
<rect x="714.0" y="279.5" width="8" height="12" rx="4" fill="#b3aa80"/>
<circle cx="718.0" cy="285.3" r="2.5" fill="#1a1a1a"/>
<rect x="726.5" y="279.5" width="8" height="12" rx="4" fill="#b3aa80"/>
<circle cx="730.5" cy="285.3" r="2.5" fill="#1a1a1a"/>
<rect x="739.0" y="279.5" width="8" height="12" rx="4" fill="#b3aa80"/>
<circle cx="743.0" cy="285.3" r="2.5" fill="#1a1a1a"/>
<rect x="751.5" y="279.5" width="8" height="12" rx="4" fill="#b3aa80"/>
<circle cx="755.5" cy="285.3" r="2.5" fill="#1a1a1a"/>
<rect x="764.0" y="279.5" width="8" height="12" rx="4" fill="#b3aa80"/>
<circle cx="768.0" cy="285.3" r="2.5" fill="#1a1a1a"/>
<rect x="776.5" y="279.5" width="8" height="12" rx="4" fill="#b3aa80"/>
<circle cx="780.5" cy="285.3" r="2.5" fill="#1a1a1a"/>
<rect x="789.0" y="279.5" width="8" height="12" rx="4" fill="#b3aa80"/>
<circle cx="793.0" cy="285.3" r="2.5" fill="#1a1a1a"/>
<rect x="619" y="301.0" width="28" height="1.6" fill="#e6f0e6"/>
<rect x="755" y="301.0" width="28" height="1.6" fill="#e6f0e6"/>
<rect x="891.5" y="301.0" width="28" height="1.6" fill="#e6f0e6"/>
<rect x="619" y="434.0" width="28" height="1.6" fill="#e6f0e6"/>
<rect x="755" y="434.0" width="28" height="1.6" fill="#e6f0e6"/>
<rect x="891.5" y="434.0" width="28" height="1.6" fill="#e6f0e6"/>
<path d="M593,303 L945,303 L948.7,306.7 L948.7,427.5 L944.6,431.8 L593,431.8 L590,428.8 L590,306 Z" fill="#2f2f31"/>
<rect x="601.5" y="309.4" width="335" height="14.6" rx="1.5" fill="#202021"/>
<rect x="603" y="313" width="332" height="3" fill="#474749"/>
<rect x="603" y="316" width="332" height="8" fill="#29292a"/>
<rect x="601.5" y="419.8" width="335" height="11.6" rx="1.5" fill="#202021"/>
<rect x="603" y="422.6" width="332" height="3" fill="#474749"/>
<rect x="603" y="425.6" width="332" height="5.8" fill="#29292a"/>
<rect x="603.5" y="325.8" width="330.7" height="84.4" rx="5.5" fill="#8db234"/>
<rect x="620.7" y="339" width="296.79999999999995" height="58.5" fill="#82a633"/>
<rect x="638.75" y="339" width="1" height="58.5" fill="#92b43a"/>
<rect x="657.3000000000001" y="339" width="1" height="58.5" fill="#92b43a"/>
<rect x="675.85" y="339" width="1" height="58.5" fill="#92b43a"/>
<rect x="694.4000000000001" y="339" width="1" height="58.5" fill="#92b43a"/>
<rect x="712.95" y="339" width="1" height="58.5" fill="#92b43a"/>
<rect x="731.5" y="339" width="1" height="58.5" fill="#92b43a"/>
<rect x="750.05" y="339" width="1" height="58.5" fill="#92b43a"/>
<rect x="768.6" y="339" width="1" height="58.5" fill="#92b43a"/>
<rect x="787.1500000000001" y="339" width="1" height="58.5" fill="#92b43a"/>
<rect x="805.7" y="339" width="1" height="58.5" fill="#92b43a"/>
<rect x="824.25" y="339" width="1" height="58.5" fill="#92b43a"/>
<rect x="842.8" y="339" width="1" height="58.5" fill="#92b43a"/>
<rect x="861.35" y="339" width="1" height="58.5" fill="#92b43a"/>
<rect x="879.9" y="339" width="1" height="58.5" fill="#92b43a"/>
<rect x="898.45" y="339" width="1" height="58.5" fill="#92b43a"/>
<rect x="620.7" y="367.75" width="296.79999999999995" height="1" fill="#92b43a"/>
<text x="623" y="354.8" font-size="17" fill="#121212" stroke="#121212" stroke-width="0.3" textLength="123.5" lengthAdjust="spacingAndGlyphs">16X2 LCD MODUE</text>
<rect x="503.5" y="360" width="4" height="8" fill="#7cc47c"/>
<rect x="528.5" y="360" width="4" height="8" fill="#7cc47c"/>
<rect x="553.5" y="360" width="4" height="8" fill="#7cc47c"/>
<rect x="493.6" y="367" width="74.7" height="21.2" fill="#8f8f8f"/>
<rect x="550" y="367" width="18.3" height="21.2" fill="#9a9a9a"/>
<rect x="537" y="367" width="13" height="21.2" fill="#ababab"/>
<rect x="493.6" y="367" width="74.7" height="3" fill="#9c9c9c"/>
<rect x="496" y="388" width="69" height="10" rx="2.5" fill="#333333"/>
<rect x="511.8" y="388" width="35.7" height="10" fill="#444"/>
<rect x="511.8" y="398" width="35.7" height="16" fill="#111111"/>
<path d="M517.3,414 L543.3,414 L543.3,495 Q543.3,500 538,500 L522.6,500 Q517.3,500 517.3,495 Z" fill="url(#shaft)"/>
<line x1="522" y1="415" x2="522" y2="497" stroke="#555" stroke-width="0.8"/>
<line x1="526.5" y1="415" x2="526.5" y2="497" stroke="#555" stroke-width="0.8"/>
<line x1="531" y1="415" x2="531" y2="497" stroke="#555" stroke-width="0.8"/>
<line x1="535.5" y1="415" x2="535.5" y2="497" stroke="#555" stroke-width="0.8"/>
<line x1="540" y1="415" x2="540" y2="497" stroke="#555" stroke-width="0.8"/>
<rect x="221.5" y="388.9" width="118" height="148.6" rx="6" fill="#1452b8"/>
<circle cx="233.4" cy="401.2" r="7.8" fill="#ffffff"/>
<circle cx="326" cy="519.5" r="7.6" fill="#ffffff"/>
<rect x="257.3" y="393.7" width="12.3" height="23.8" rx="2" fill="#e9ae1e" stroke="#9fb6e0" stroke-width="0.8"/>
<circle cx="280.3" cy="398.4" r="5.2" fill="#2a6a8a" stroke="#7fb0d8" stroke-width="1"/>
<circle cx="280.3" cy="398.4" r="3.2" fill="#c99aa8"/>
<circle cx="292.8" cy="398.4" r="5.2" fill="#2a6a8a" stroke="#7fb0d8" stroke-width="1"/>
<circle cx="292.8" cy="398.4" r="3.2" fill="#4ea890"/>
<circle cx="305.3" cy="398.4" r="5.2" fill="#2a6a8a" stroke="#7fb0d8" stroke-width="1"/>
<circle cx="305.3" cy="398.4" r="3.2" fill="#4ea890"/>
<circle cx="318" cy="398.4" r="5.2" fill="#2a6a8a" stroke="#7fb0d8" stroke-width="1"/>
<circle cx="318" cy="398.4" r="3.2" fill="#4ea890"/>
<circle cx="330.5" cy="398.4" r="5.2" fill="#2a6a8a" stroke="#7fb0d8" stroke-width="1"/>
<circle cx="330.5" cy="398.4" r="3.2" fill="#4ea890"/>
<text x="278.0" y="407" transform="rotate(90 278.0 407)" font-family="Liberation Mono" style="font-family:'Liberation Mono',monospace" font-size="6.6" font-weight="bold" fill="#ffffff">SQW</text>
<text x="290.5" y="407" transform="rotate(90 290.5 407)" font-family="Liberation Mono" style="font-family:'Liberation Mono',monospace" font-size="6.6" font-weight="bold" fill="#ffffff">SCL</text>
<text x="303.0" y="407" transform="rotate(90 303.0 407)" font-family="Liberation Mono" style="font-family:'Liberation Mono',monospace" font-size="6.6" font-weight="bold" fill="#ffffff">SDA</text>
<text x="315.7" y="407" transform="rotate(90 315.7 407)" font-family="Liberation Mono" style="font-family:'Liberation Mono',monospace" font-size="6.6" font-weight="bold" fill="#ffffff">5V</text>
<text x="328.2" y="407" transform="rotate(90 328.2 407)" font-family="Liberation Mono" style="font-family:'Liberation Mono',monospace" font-size="6.6" font-weight="bold" fill="#ffffff">GND</text>
<text x="246.3" y="389.8" transform="rotate(90 246.3 389.8)" font-family="Liberation Mono" style="font-family:'Liberation Mono',monospace" font-size="6.6" font-weight="bold" fill="#ffffff" textLength="31" lengthAdjust="spacingAndGlyphs">adafruit</text>
<line x1="228" y1="429" x2="280" y2="429" stroke="#b8b8b8" stroke-width="2"/>
<circle cx="229" cy="429" r="4" fill="#a7a7a7"/><circle cx="279" cy="429" r="4" fill="#a7a7a7"/>
<rect x="237.5" y="424.2" width="32" height="9.6" rx="3" fill="#e7cc8f" stroke="#f2f2f2" stroke-width="0.8"/>
<rect x="243" y="424.2" width="2.2" height="9.6" fill="#9a5a3a"/>
<rect x="249" y="424.2" width="2.2" height="9.6" fill="#9a5a3a"/>
<rect x="255" y="424.2" width="2.2" height="9.6" fill="#9a5a3a"/>
<rect x="262" y="424.2" width="2.2" height="9.6" fill="#9a5a3a"/>
<line x1="228" y1="444.2" x2="280" y2="444.2" stroke="#b8b8b8" stroke-width="2"/>
<circle cx="229" cy="444.2" r="4" fill="#a7a7a7"/><circle cx="279" cy="444.2" r="4" fill="#a7a7a7"/>
<rect x="237.5" y="439.4" width="32" height="9.6" rx="3" fill="#e7cc8f" stroke="#f2f2f2" stroke-width="0.8"/>
<rect x="243" y="439.4" width="2.2" height="9.6" fill="#9a5a3a"/>
<rect x="249" y="439.4" width="2.2" height="9.6" fill="#9a5a3a"/>
<rect x="255" y="439.4" width="2.2" height="9.6" fill="#9a5a3a"/>
<rect x="262" y="439.4" width="2.2" height="9.6" fill="#9a5a3a"/>
<rect x="290.5" y="421.7" width="5" height="10" fill="#d6d6d6"/>
<rect x="290.5" y="461" width="5" height="9" fill="#d6d6d6"/>
<rect x="302.8" y="421.7" width="5" height="10" fill="#d6d6d6"/>
<rect x="302.8" y="461" width="5" height="9" fill="#d6d6d6"/>
<rect x="315.5" y="421.7" width="5" height="10" fill="#d6d6d6"/>
<rect x="315.5" y="461" width="5" height="9" fill="#d6d6d6"/>
<rect x="328.0" y="421.7" width="5" height="10" fill="#d6d6d6"/>
<rect x="328.0" y="461" width="5" height="9" fill="#d6d6d6"/>
<rect x="286.7" y="431.2" width="49.2" height="30.8" fill="#2b2b2b"/>
<path d="M286.7,441 L290,444 L286.7,447 Z" fill="#111"/>
<polygon points="277.00,446.90 278.94,451.73 284.13,452.08 280.14,455.42 281.41,460.47 277.00,457.70 272.59,460.47 273.86,455.42 269.87,452.08 275.06,451.73" fill="#e8eef8"/>
<circle cx="241" cy="498" r="19" fill="#a2a2a2"/>
<path d="M223.5,463.5 L274,463.5 L286.5,476 L286.5,516 L274,528.8 L223.5,528.8 L223.5,517 Q231,508 231,498 Q231,488 223.5,479 Z" fill="#cacaca" stroke="#e6e6e6" stroke-width="1"/>
<rect x="247" y="459" width="14" height="6" rx="2" fill="#c8c8c8"/>
<rect x="247" y="527" width="14" height="7" rx="2" fill="#c8c8c8"/>
<rect x="232" y="473" width="27" height="10" fill="#d6d6d6" stroke="#b0b0b0" stroke-width="0.6"/>
<circle cx="258" cy="478" r="8.2" fill="#8e8e8e"/>
<circle cx="255" cy="478" r="5.5" fill="#a0a0a0"/>
<rect x="232" y="509.20000000000005" width="27" height="10" fill="#d6d6d6" stroke="#b0b0b0" stroke-width="0.6"/>
<circle cx="258" cy="514.2" r="8.2" fill="#8e8e8e"/>
<circle cx="255" cy="514.2" r="5.5" fill="#a0a0a0"/>
<path d="M274,494 L284,494 M279,489 L279,499" stroke="#e8e8e8" stroke-width="0.9"/>
<path d="M299,486 Q299,480 293,477 M299,486 Q299,480 305,477" fill="none" stroke="#d0d0d0" stroke-width="2.2"/>
<rect x="291" y="485.7" width="16.2" height="41.5" rx="3" fill="#c4c4c4" stroke="#e4e4e4" stroke-width="1"/>
<text x="331" y="477" transform="rotate(90 331 477)" font-family="Liberation Mono" style="font-family:'Liberation Mono',monospace" font-size="8.4" font-weight="bold" fill="#ffffff">DS1307</text>
<text x="322" y="477" transform="rotate(90 322 477)" font-family="Liberation Mono" style="font-family:'Liberation Mono',monospace" font-size="8.4" font-weight="bold" fill="#ffffff">RTC</text>
<text x="313.5" y="477" transform="rotate(90 313.5 477)" font-family="Liberation Mono" style="font-family:'Liberation Mono',monospace" font-size="8.4" font-weight="bold" fill="#ffffff">Breakout</text>
<circle cx="68.3" cy="81" r="4" fill="url(#halo)"/><circle cx="80.2" cy="81" r="4" fill="url(#halo)"/>
<path d="M68.3,83.5 L68,97.5" fill="none" stroke="#2f5f9c" stroke-width="5.4" stroke-linecap="round" stroke-linejoin="round"/>
<path d="M68.3,83.5 L68,97.5" fill="none" stroke="#4a86c8" stroke-width="3.6000000000000005" stroke-linecap="round" stroke-linejoin="round"/>
<circle cx="68.3" cy="83.5" r="1.9" fill="#448882"/>
<circle cx="68" cy="97.5" r="1.9" fill="#448882"/>
<path d="M80.2,83.5 L80.5,110" fill="none" stroke="#8a1b1b" stroke-width="5.4" stroke-linecap="round" stroke-linejoin="round"/>
<path d="M80.2,83.5 L80.5,110" fill="none" stroke="#bf2222" stroke-width="3.6000000000000005" stroke-linecap="round" stroke-linejoin="round"/>
<circle cx="80.2" cy="83.5" r="1.9" fill="#845126"/>
<circle cx="80.5" cy="110" r="1.9" fill="#845126"/>
<path d="M243,110 L243,185" fill="none" stroke="#8a1b1b" stroke-width="5.4" stroke-linecap="round" stroke-linejoin="round"/>
<path d="M243,110 L243,185" fill="none" stroke="#bf2222" stroke-width="3.6000000000000005" stroke-linecap="round" stroke-linejoin="round"/>
<circle cx="243" cy="110" r="1.9" fill="#845126"/>
<circle cx="243" cy="185" r="1.9" fill="#845126"/>
<path d="M405.5,97.5 L430.5,97.5" fill="none" stroke="#2f5f9c" stroke-width="5.4" stroke-linecap="round" stroke-linejoin="round"/>
<path d="M405.5,97.5 L430.5,97.5" fill="none" stroke="#4a86c8" stroke-width="3.6000000000000005" stroke-linecap="round" stroke-linejoin="round"/>
<circle cx="405.5" cy="97.5" r="1.9" fill="#448882"/>
<circle cx="430.5" cy="97.5" r="1.9" fill="#448882"/>
<path d="M405.5,110 L430.5,110" fill="none" stroke="#8a1b1b" stroke-width="5.4" stroke-linecap="round" stroke-linejoin="round"/>
<path d="M405.5,110 L430.5,110" fill="none" stroke="#bf2222" stroke-width="3.6000000000000005" stroke-linecap="round" stroke-linejoin="round"/>
<circle cx="405.5" cy="110" r="1.9" fill="#845126"/>
<circle cx="430.5" cy="110" r="1.9" fill="#845126"/>
<path d="M405.5,322.5 L430.5,322.5" fill="none" stroke="#2f5f9c" stroke-width="5.4" stroke-linecap="round" stroke-linejoin="round"/>
<path d="M405.5,322.5 L430.5,322.5" fill="none" stroke="#4a86c8" stroke-width="3.6000000000000005" stroke-linecap="round" stroke-linejoin="round"/>
<circle cx="405.5" cy="322.5" r="1.9" fill="#448882"/>
<circle cx="430.5" cy="322.5" r="1.9" fill="#448882"/>
<path d="M405.5,335 L430.5,335" fill="none" stroke="#8a1b1b" stroke-width="5.4" stroke-linecap="round" stroke-linejoin="round"/>
<path d="M405.5,335 L430.5,335" fill="none" stroke="#bf2222" stroke-width="3.6000000000000005" stroke-linecap="round" stroke-linejoin="round"/>
<circle cx="405.5" cy="335" r="1.9" fill="#845126"/>
<circle cx="430.5" cy="335" r="1.9" fill="#845126"/>
<path d="M80.5,197.5 L30.5,197.5 L30.5,235.5" fill="none" stroke="#8a1b1b" stroke-width="5.4" stroke-linecap="round" stroke-linejoin="round"/>
<path d="M80.5,197.5 L30.5,197.5 L30.5,235.5" fill="none" stroke="#bf2222" stroke-width="3.6000000000000005" stroke-linecap="round" stroke-linejoin="round"/>
<circle cx="80.5" cy="197.5" r="1.9" fill="#845126"/>
<circle cx="30.5" cy="235.5" r="1.9" fill="#845126"/>
<path d="M105.5,197.5 L155.5,197.5 L155.5,235.5" fill="none" stroke="#8a1b1b" stroke-width="5.4" stroke-linecap="round" stroke-linejoin="round"/>
<path d="M105.5,197.5 L155.5,197.5 L155.5,235.5" fill="none" stroke="#bf2222" stroke-width="3.6000000000000005" stroke-linecap="round" stroke-linejoin="round"/>
<circle cx="105.5" cy="197.5" r="1.9" fill="#845126"/>
<circle cx="155.5" cy="235.5" r="1.9" fill="#845126"/>
<path d="M55.5,235.5 L130.5,235.5" fill="none" stroke="#2f5f9c" stroke-width="5.4" stroke-linecap="round" stroke-linejoin="round"/>
<path d="M55.5,235.5 L130.5,235.5" fill="none" stroke="#4a86c8" stroke-width="3.6000000000000005" stroke-linecap="round" stroke-linejoin="round"/>
<circle cx="55.5" cy="235.5" r="1.9" fill="#448882"/>
<circle cx="130.5" cy="235.5" r="1.9" fill="#448882"/>
<path d="M93,285.5 L93,322.5" fill="none" stroke="#2f5f9c" stroke-width="5.4" stroke-linecap="round" stroke-linejoin="round"/>
<path d="M93,285.5 L93,322.5" fill="none" stroke="#4a86c8" stroke-width="3.6000000000000005" stroke-linecap="round" stroke-linejoin="round"/>
<circle cx="93" cy="285.5" r="1.9" fill="#448882"/>
<circle cx="93" cy="322.5" r="1.9" fill="#448882"/>
<path d="M605.5,97.5 L605.5,285.5" fill="none" stroke="#2f5f9c" stroke-width="5.4" stroke-linecap="round" stroke-linejoin="round"/>
<path d="M605.5,97.5 L605.5,285.5" fill="none" stroke="#4a86c8" stroke-width="3.6000000000000005" stroke-linecap="round" stroke-linejoin="round"/>
<circle cx="605.5" cy="97.5" r="1.9" fill="#448882"/>
<circle cx="605.5" cy="285.5" r="1.9" fill="#448882"/>
<path d="M618,110 L618,285.5" fill="none" stroke="#8a1b1b" stroke-width="5.4" stroke-linecap="round" stroke-linejoin="round"/>
<path d="M618,110 L618,285.5" fill="none" stroke="#bf2222" stroke-width="3.6000000000000005" stroke-linecap="round" stroke-linejoin="round"/>
<circle cx="618" cy="110" r="1.9" fill="#845126"/>
<circle cx="618" cy="285.5" r="1.9" fill="#845126"/>
<path d="M480.5,260.5 L480.5,322.5" fill="none" stroke="#2f5f9c" stroke-width="5.4" stroke-linecap="round" stroke-linejoin="round"/>
<path d="M480.5,260.5 L480.5,322.5" fill="none" stroke="#4a86c8" stroke-width="3.6000000000000005" stroke-linecap="round" stroke-linejoin="round"/>
<circle cx="480.5" cy="260.5" r="1.9" fill="#448882"/>
<circle cx="480.5" cy="322.5" r="1.9" fill="#448882"/>
<path d="M780.5,97.5 L793,97.5 L793,273" fill="none" stroke="#2f5f9c" stroke-width="5.4" stroke-linecap="round" stroke-linejoin="round"/>
<path d="M780.5,97.5 L793,97.5 L793,273" fill="none" stroke="#4a86c8" stroke-width="3.6000000000000005" stroke-linecap="round" stroke-linejoin="round"/>
<circle cx="780.5" cy="97.5" r="1.9" fill="#448882"/>
<circle cx="793" cy="273" r="1.9" fill="#448882"/>
<path d="M780.5,110 L780.5,235.5" fill="none" stroke="#8a1b1b" stroke-width="5.4" stroke-linecap="round" stroke-linejoin="round"/>
<path d="M780.5,110 L780.5,235.5" fill="none" stroke="#bf2222" stroke-width="3.6000000000000005" stroke-linecap="round" stroke-linejoin="round"/>
<circle cx="780.5" cy="110" r="1.9" fill="#845126"/>
<circle cx="780.5" cy="235.5" r="1.9" fill="#845126"/>
<path d="M405.5,260.5 L405.5,397.5 L468,397.5 L468,510 L980.5,510 L980.5,135.5 L730.5,135.5 L730.5,235.5" fill="none" stroke="#8c8c8c" stroke-width="5.4" stroke-linecap="round" stroke-linejoin="round"/>
<path d="M405.5,260.5 L405.5,397.5 L468,397.5 L468,510 L980.5,510 L980.5,135.5 L730.5,135.5 L730.5,235.5" fill="none" stroke="#ffffff" stroke-width="3.6000000000000005" stroke-linecap="round" stroke-linejoin="round"/>
<circle cx="405.5" cy="260.5" r="1.9" fill="#a7caa0"/>
<circle cx="730.5" cy="235.5" r="1.9" fill="#a7caa0"/>
<path d="M418,260.5 L418,411 L455.5,411 L455.5,522.5 L993.8,522.5 L993.8,123.3 L743,123.3 L743,235.5" fill="none" stroke="#b15a1e" stroke-width="5.4" stroke-linecap="round" stroke-linejoin="round"/>
<path d="M418,260.5 L418,411 L455.5,411 L455.5,522.5 L993.8,522.5 L993.8,123.3 L743,123.3 L743,235.5" fill="none" stroke="#d9772e" stroke-width="3.6000000000000005" stroke-linecap="round" stroke-linejoin="round"/>
<circle cx="418" cy="260.5" r="1.9" fill="#92802d"/>
<circle cx="743" cy="235.5" r="1.9" fill="#92802d"/>
<path d="M430.5,260.5 L430.5,535.5 L1006.5,535.5 L1006.5,85.5 L755.5,85.5 L755.5,235.5" fill="none" stroke="#77621f" stroke-width="5.4" stroke-linecap="round" stroke-linejoin="round"/>
<path d="M430.5,260.5 L430.5,535.5 L1006.5,535.5 L1006.5,85.5 L755.5,85.5 L755.5,235.5" fill="none" stroke="#9b7f2b" stroke-width="3.6000000000000005" stroke-linecap="round" stroke-linejoin="round"/>
<circle cx="430.5" cy="260.5" r="1.9" fill="#70842b"/>
<circle cx="755.5" cy="235.5" r="1.9" fill="#70842b"/>
<path d="M443,260.5 L443,548.5 L1018.3,548.5 L1018.3,73.2 L768,73.2 L768,235.5" fill="none" stroke="#7a3a84" stroke-width="5.4" stroke-linecap="round" stroke-linejoin="round"/>
<path d="M443,260.5 L443,548.5 L1018.3,548.5 L1018.3,73.2 L768,73.2 L768,235.5" fill="none" stroke="#9d58a8" stroke-width="3.6000000000000005" stroke-linecap="round" stroke-linejoin="round"/>
<circle cx="443" cy="260.5" r="1.9" fill="#716e70"/>
<circle cx="768" cy="235.5" r="1.9" fill="#716e70"/>
<path d="M30.5,248 L5,248 L5,372.5 L468,372.5 L468,260.5" fill="none" stroke="#cfc226" stroke-width="5.4" stroke-linecap="round" stroke-linejoin="round"/>
<path d="M30.5,248 L5,248 L5,372.5 L468,372.5 L468,260.5" fill="none" stroke="#f1e53a" stroke-width="3.6000000000000005" stroke-linecap="round" stroke-linejoin="round"/>
<circle cx="30.5" cy="248" r="1.9" fill="#a0bc34"/>
<circle cx="468" cy="260.5" r="1.9" fill="#a0bc34"/>
<path d="M255.5,273 L293,273 L293,398" fill="none" stroke="#8c8c8c" stroke-width="5.4" stroke-linecap="round" stroke-linejoin="round"/>
<path d="M255.5,273 L293,273 L293,398" fill="none" stroke="#ffffff" stroke-width="3.6000000000000005" stroke-linecap="round" stroke-linejoin="round"/>
<circle cx="255.5" cy="273" r="1.9" fill="#a7caa0"/>
<circle cx="293" cy="398" r="1.9" fill="#a7caa0"/>
<path d="M243,285.5 L305.5,285.5 L305.5,398" fill="none" stroke="#151515" stroke-width="5.4" stroke-linecap="round" stroke-linejoin="round"/>
<path d="M243,285.5 L305.5,285.5 L305.5,398" fill="none" stroke="#303030" stroke-width="3.6000000000000005" stroke-linecap="round" stroke-linejoin="round"/>
<circle cx="243" cy="285.5" r="1.9" fill="#35582e"/>
<circle cx="305.5" cy="398" r="1.9" fill="#35582e"/>
<path d="M318,335 L318,398" fill="none" stroke="#8a1b1b" stroke-width="5.4" stroke-linecap="round" stroke-linejoin="round"/>
<path d="M318,335 L318,398" fill="none" stroke="#bf2222" stroke-width="3.6000000000000005" stroke-linecap="round" stroke-linejoin="round"/>
<circle cx="318" cy="335" r="1.9" fill="#845126"/>
<circle cx="318" cy="398" r="1.9" fill="#845126"/>
<path d="M330.5,322.5 L330.5,398" fill="none" stroke="#2f5f9c" stroke-width="5.4" stroke-linecap="round" stroke-linejoin="round"/>
<path d="M330.5,322.5 L330.5,398" fill="none" stroke="#4a86c8" stroke-width="3.6000000000000005" stroke-linecap="round" stroke-linejoin="round"/>
<circle cx="330.5" cy="322.5" r="1.9" fill="#448882"/>
<circle cx="330.5" cy="398" r="1.9" fill="#448882"/>
<path d="M368,285.5 L505.5,285.5 L505.5,248 L655.5,248 L655.5,273" fill="none" stroke="#cfc226" stroke-width="5.4" stroke-linecap="round" stroke-linejoin="round"/>
<path d="M368,285.5 L505.5,285.5 L505.5,248 L655.5,248 L655.5,273" fill="none" stroke="#f1e53a" stroke-width="3.6000000000000005" stroke-linecap="round" stroke-linejoin="round"/>
<circle cx="368" cy="285.5" r="1.9" fill="#a0bc34"/>
<circle cx="655.5" cy="273" r="1.9" fill="#a0bc34"/>
<path d="M380.5,260.5 L380.5,298.3 L518,298.3 L518,260.5 L668,260.5" fill="none" stroke="#1f8f2b" stroke-width="5.4" stroke-linecap="round" stroke-linejoin="round"/>
<path d="M380.5,260.5 L380.5,298.3 L518,298.3 L518,260.5 L668,260.5" fill="none" stroke="#2fba3c" stroke-width="3.6000000000000005" stroke-linecap="round" stroke-linejoin="round"/>
<circle cx="380.5" cy="260.5" r="1.9" fill="#35a435"/>
<circle cx="668" cy="260.5" r="1.9" fill="#35a435"/>
<path d="M355.5,273 L643,273" fill="none" stroke="#151515" stroke-width="5.4" stroke-linecap="round" stroke-linejoin="round"/>
<path d="M355.5,273 L643,273" fill="none" stroke="#303030" stroke-width="3.6000000000000005" stroke-linecap="round" stroke-linejoin="round"/>
<circle cx="355.5" cy="273" r="1.9" fill="#35582e"/>
<circle cx="643" cy="273" r="1.9" fill="#35582e"/>
<path d="M155.5,248 L180.5,248 L180.5,360 L455.5,360 L455.5,260.5" fill="none" stroke="#1f8f2b" stroke-width="5.4" stroke-linecap="round" stroke-linejoin="round"/>
<path d="M155.5,248 L180.5,248 L180.5,360 L455.5,360 L455.5,260.5" fill="none" stroke="#2fba3c" stroke-width="3.6000000000000005" stroke-linecap="round" stroke-linejoin="round"/>
<circle cx="155.5" cy="248" r="1.9" fill="#35a435"/>
<circle cx="455.5" cy="260.5" r="1.9" fill="#35a435"/>
<path d="M530.5,365 L530.5,235.5 L630.5,235.5 L630.5,285.5" fill="none" stroke="#23aebd" stroke-width="5.4" stroke-linecap="round" stroke-linejoin="round"/>
<path d="M530.5,365 L530.5,235.5 L630.5,235.5 L630.5,285.5" fill="none" stroke="#4ce3ea" stroke-width="3.6000000000000005" stroke-linecap="round" stroke-linejoin="round"/>
<circle cx="530.5" cy="365" r="1.9" fill="#45bb94"/>
<circle cx="630.5" cy="285.5" r="1.9" fill="#45bb94"/>
<path d="M505.5,335 L505.5,365" fill="none" stroke="#8a1b1b" stroke-width="5.4" stroke-linecap="round" stroke-linejoin="round"/>
<path d="M505.5,335 L505.5,365" fill="none" stroke="#bf2222" stroke-width="3.6000000000000005" stroke-linecap="round" stroke-linejoin="round"/>
<circle cx="505.5" cy="335" r="1.9" fill="#845126"/>
<circle cx="505.5" cy="365" r="1.9" fill="#845126"/>
<path d="M555.5,322.5 L555.5,365" fill="none" stroke="#2f5f9c" stroke-width="5.4" stroke-linecap="round" stroke-linejoin="round"/>
<path d="M555.5,322.5 L555.5,365" fill="none" stroke="#4a86c8" stroke-width="3.6000000000000005" stroke-linecap="round" stroke-linejoin="round"/>
<circle cx="555.5" cy="322.5" r="1.9" fill="#448882"/>
<circle cx="555.5" cy="365" r="1.9" fill="#448882"/>
<text x="105" y="64.2" font-size="15.6" fill="#1c1c1c" stroke="#1c1c1c" stroke-width="0.3" textLength="67.5" lengthAdjust="spacingAndGlyphs">5V Supply</text>
<text x="56.2" y="217" font-size="15.4" fill="#1c1c1c" stroke="#1c1c1c" stroke-width="0.3" textLength="71" lengthAdjust="spacingAndGlyphs">X1-20MHZ</text>
<text x="12.7" y="329" font-size="15.2" fill="#1c1c1c" stroke="#1c1c1c" stroke-width="0.3" textLength="53.7" lengthAdjust="spacingAndGlyphs">C1 22uf</text>
<text x="113.3" y="329" font-size="15.2" fill="#1c1c1c" stroke="#1c1c1c" stroke-width="0.3" textLength="53.7" lengthAdjust="spacingAndGlyphs">C2 22uf</text>
<text x="111.8" y="406.8" font-size="15.2" fill="#1c1c1c" stroke="#1c1c1c" stroke-width="0.3" textLength="81.2" lengthAdjust="spacingAndGlyphs">RTC Module</text>
<text x="111.8" y="421.4" font-size="15.2" fill="#1c1c1c" stroke="#1c1c1c" stroke-width="0.3" textLength="94.7" lengthAdjust="spacingAndGlyphs">Adafruit #264</text>
<g fill="none" stroke="#7c7c7c" stroke-width="2.1" stroke-linecap="round" stroke-linejoin="round"><path d="M947.6,580.2 L947.6,568.4 Q947.6,565.2 950.8,565.2 L951.6,565.2 M944.8,570.4 L951.4,570.4"/><path d="M955.4,578.4 L955.4,570.4 M955.4,573.6 Q956.6,570.4 959.8,570.4"/><path d="M966.4,570.4 L966.4,580.2"/><path d="M973.7,565.8 L973.7,577.6 Q973.7,580.2 976.4,580.2 L977.8,580.2 M971.2,570.4 L977.8,570.4"/><path d="M981.6,570.4 L990.4,570.4 L981.8,580 L988.2,580"/><path d="M996.3,570.4 L996.3,580.2"/><path d="M1003.3,570.4 L1003.3,580.2 M1003.3,573.8 Q1004.2,570.4 1006.4,570.4 Q1009.4,570.4 1009.4,573.8 L1009.4,578.4"/><path d="M1022.4,570.4 L1022.4,586 M1022.4,574.6 Q1021.8,570.4 1018.4,570.4 Q1014.4,570.4 1014.4,575.3 Q1014.4,580.2 1018.4,580.2 Q1021.8,580.2 1022.4,576"/></g><g fill="#fff" stroke="#7c7c7c" stroke-width="1.1"><circle cx="955" cy="579.6" r="1.5"/><circle cx="966.4" cy="565.5" r="1.5"/><circle cx="989.7" cy="579.8" r="1.5"/><circle cx="996.3" cy="565.5" r="1.5"/><circle cx="1009.4" cy="579.8" r="1.5"/></g>
</svg></body></html>
